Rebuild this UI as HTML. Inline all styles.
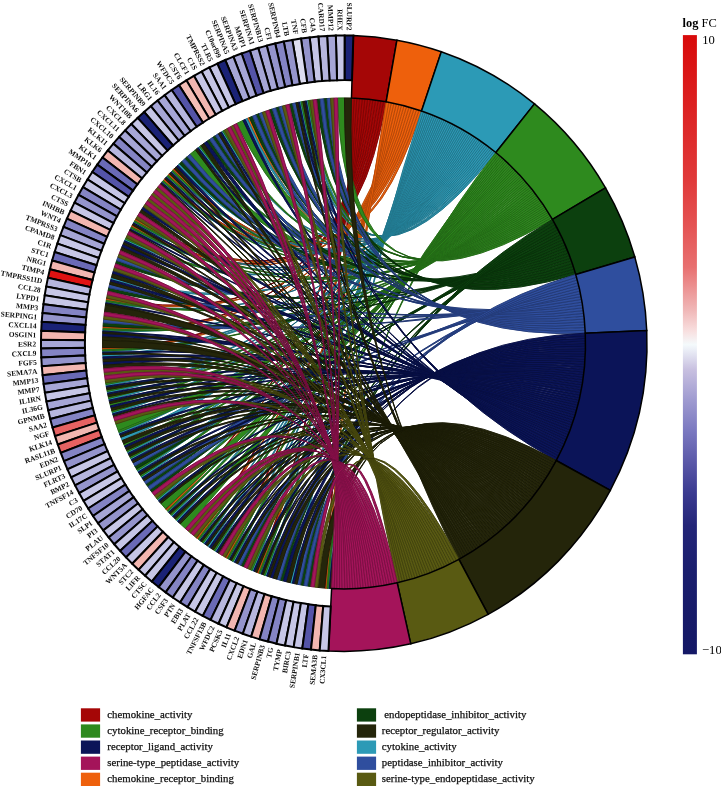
<!DOCTYPE html><html><head><meta charset="utf-8"><style>html,body{margin:0;padding:0;background:#fff;width:721px;height:786px;overflow:hidden}svg{display:block}text{font-family:"Liberation Serif","DejaVu Serif",serif}</style></head><body>
<svg width="721" height="786" viewBox="0 0 721 786">
<rect width="721" height="786" fill="#fff"/>
<style>.rb{stroke-width:0.95;stroke-linejoin:round}.rb .b{fill:none;stroke:#000;stroke-opacity:0.60;stroke-width:0.40}</style>
<g class="rb"><g fill="#A50606" stroke="#A50606"><path d="M174.46,168.59 Q344.00,343.40 386.18,101.70 L383.53,101.24 Q344.00,343.40 173.63,169.43 Z"/><path class="b" d="M174.46,168.59 Q344.00,343.40 386.18,101.70 L383.53,101.24 Q344.00,343.40 173.63,169.43 Z"/><path d="M169.56,173.65 Q344.00,343.40 383.53,101.24 L380.88,100.80 Q344.00,343.40 168.76,174.50 Z"/><path class="b" d="M169.56,173.65 Q344.00,343.40 383.53,101.24 L380.88,100.80 Q344.00,343.40 168.76,174.50 Z"/><path d="M164.81,178.84 Q344.00,343.40 380.88,100.80 L378.22,100.40 Q344.00,343.40 164.03,179.72 Z"/><path class="b" d="M164.81,178.84 Q344.00,343.40 380.88,100.80 L378.22,100.40 Q344.00,343.40 164.03,179.72 Z"/><path d="M135.93,218.80 Q344.00,343.40 378.22,100.40 L375.56,100.03 Q344.00,343.40 135.35,219.82 Z"/><path class="b" d="M135.93,218.80 Q344.00,343.40 378.22,100.40 L375.56,100.03 Q344.00,343.40 135.35,219.82 Z"/><path d="M132.48,224.96 Q344.00,343.40 375.56,100.03 L372.89,99.69 Q344.00,343.40 131.92,226.00 Z"/><path class="b" d="M132.48,224.96 Q344.00,343.40 375.56,100.03 L372.89,99.69 Q344.00,343.40 131.92,226.00 Z"/><path d="M106.66,298.10 Q344.00,343.40 372.89,99.69 L370.22,99.38 Q344.00,343.40 106.44,299.26 Z"/><path class="b" d="M106.66,298.10 Q344.00,343.40 372.89,99.69 L370.22,99.38 Q344.00,343.40 106.44,299.26 Z"/><path d="M103.10,326.23 Q344.00,343.40 370.22,99.38 L367.55,99.09 Q344.00,343.40 103.02,327.41 Z"/><path class="b" d="M103.10,326.23 Q344.00,343.40 370.22,99.38 L367.55,99.09 Q344.00,343.40 103.02,327.41 Z"/><path d="M102.54,347.50 Q344.00,343.40 367.55,99.09 L364.87,98.84 Q344.00,343.40 102.56,348.68 Z"/><path class="b" d="M102.54,347.50 Q344.00,343.40 367.55,99.09 L364.87,98.84 Q344.00,343.40 102.56,348.68 Z"/><path d="M165.53,508.77 Q344.00,343.40 364.87,98.84 L362.19,98.62 Q344.00,343.40 166.32,509.65 Z"/><path class="b" d="M165.53,508.77 Q344.00,343.40 364.87,98.84 L362.19,98.62 Q344.00,343.40 166.32,509.65 Z"/><path d="M196.28,537.59 Q344.00,343.40 362.19,98.62 L359.51,98.43 Q344.00,343.40 197.20,538.31 Z"/><path class="b" d="M196.28,537.59 Q344.00,343.40 362.19,98.62 L359.51,98.43 Q344.00,343.40 197.20,538.31 Z"/><path d="M225.33,557.19 Q344.00,343.40 359.51,98.43 L356.83,98.27 Q344.00,343.40 226.34,557.77 Z"/><path class="b" d="M225.33,557.19 Q344.00,343.40 359.51,98.43 L356.83,98.27 Q344.00,343.40 226.34,557.77 Z"/><path d="M256.85,572.33 Q344.00,343.40 356.83,98.27 L354.14,98.14 Q344.00,343.40 257.94,572.76 Z"/><path class="b" d="M256.85,572.33 Q344.00,343.40 356.83,98.27 L354.14,98.14 Q344.00,343.40 257.94,572.76 Z"/><path d="M324.65,588.09 Q344.00,343.40 354.14,98.14 L351.46,98.04 Q344.00,343.40 325.81,588.18 Z"/><path class="b" d="M324.65,588.09 Q344.00,343.40 354.14,98.14 L351.46,98.04 Q344.00,343.40 325.81,588.18 Z"/></g><g fill="#EE600C" stroke="#EE600C"><path d="M249.38,117.55 Q344.00,343.40 421.54,110.92 L419.07,110.09 Q344.00,343.40 247.24,118.49 Z"/><path class="b" d="M249.38,117.55 Q344.00,343.40 421.54,110.92 L419.07,110.09 Q344.00,343.40 247.24,118.49 Z"/><path d="M173.63,169.43 Q344.00,343.40 419.07,110.09 L416.58,109.27 Q344.00,343.40 172.81,170.26 Z"/><path class="b" d="M173.63,169.43 Q344.00,343.40 419.07,110.09 L416.58,109.27 Q344.00,343.40 172.81,170.26 Z"/><path d="M168.76,174.50 Q344.00,343.40 416.58,109.27 L414.09,108.49 Q344.00,343.40 167.96,175.36 Z"/><path class="b" d="M168.76,174.50 Q344.00,343.40 416.58,109.27 L414.09,108.49 Q344.00,343.40 167.96,175.36 Z"/><path d="M164.03,179.72 Q344.00,343.40 414.09,108.49 L411.59,107.73 Q344.00,343.40 163.25,180.60 Z"/><path class="b" d="M164.03,179.72 Q344.00,343.40 414.09,108.49 L411.59,107.73 Q344.00,343.40 163.25,180.60 Z"/><path d="M135.35,219.82 Q344.00,343.40 411.59,107.73 L409.08,107.01 Q344.00,343.40 134.76,220.84 Z"/><path class="b" d="M135.35,219.82 Q344.00,343.40 411.59,107.73 L409.08,107.01 Q344.00,343.40 134.76,220.84 Z"/><path d="M131.92,226.00 Q344.00,343.40 409.08,107.01 L406.56,106.30 Q344.00,343.40 131.37,227.04 Z"/><path class="b" d="M131.92,226.00 Q344.00,343.40 409.08,107.01 L406.56,106.30 Q344.00,343.40 131.37,227.04 Z"/><path d="M106.44,299.26 Q344.00,343.40 406.56,106.30 L404.04,105.63 Q344.00,343.40 106.24,300.43 Z"/><path class="b" d="M106.44,299.26 Q344.00,343.40 406.56,106.30 L404.04,105.63 Q344.00,343.40 106.24,300.43 Z"/><path d="M103.02,327.41 Q344.00,343.40 404.04,105.63 L401.50,104.99 Q344.00,343.40 102.95,328.59 Z"/><path class="b" d="M103.02,327.41 Q344.00,343.40 404.04,105.63 L401.50,104.99 Q344.00,343.40 102.95,328.59 Z"/><path d="M102.56,348.68 Q344.00,343.40 401.50,104.99 L398.97,104.37 Q344.00,343.40 102.59,349.86 Z"/><path class="b" d="M102.56,348.68 Q344.00,343.40 401.50,104.99 L398.97,104.37 Q344.00,343.40 102.59,349.86 Z"/><path d="M166.32,509.65 Q344.00,343.40 398.97,104.37 L396.42,103.78 Q344.00,343.40 167.11,510.51 Z"/><path class="b" d="M166.32,509.65 Q344.00,343.40 398.97,104.37 L396.42,103.78 Q344.00,343.40 167.11,510.51 Z"/><path d="M197.20,538.31 Q344.00,343.40 396.42,103.78 L393.87,103.22 Q344.00,343.40 198.13,539.03 Z"/><path class="b" d="M197.20,538.31 Q344.00,343.40 396.42,103.78 L393.87,103.22 Q344.00,343.40 198.13,539.03 Z"/><path d="M226.34,557.77 Q344.00,343.40 393.87,103.22 L391.31,102.68 Q344.00,343.40 227.36,558.34 Z"/><path class="b" d="M226.34,557.77 Q344.00,343.40 393.87,103.22 L391.31,102.68 Q344.00,343.40 227.36,558.34 Z"/><path d="M257.94,572.76 Q344.00,343.40 391.31,102.68 L388.75,102.18 Q344.00,343.40 259.02,573.18 Z"/><path class="b" d="M257.94,572.76 Q344.00,343.40 391.31,102.68 L388.75,102.18 Q344.00,343.40 259.02,573.18 Z"/><path d="M325.81,588.18 Q344.00,343.40 388.75,102.18 L386.18,101.70 Q344.00,343.40 326.97,588.26 Z"/><path class="b" d="M325.81,588.18 Q344.00,343.40 388.75,102.18 L386.18,101.70 Q344.00,343.40 326.97,588.26 Z"/></g><g fill="#2C9AB6" stroke="#2C9AB6"><path d="M307.98,100.67 Q344.00,343.40 495.84,152.52 L494.26,151.23 Q344.00,343.40 306.25,100.94 Z"/><path class="b" d="M307.98,100.67 Q344.00,343.40 495.84,152.52 L494.26,151.23 Q344.00,343.40 306.25,100.94 Z"/><path d="M301.09,101.83 Q344.00,343.40 494.26,151.23 L492.67,149.95 Q344.00,343.40 299.38,102.15 Z"/><path class="b" d="M301.09,101.83 Q344.00,343.40 494.26,151.23 L492.67,149.95 Q344.00,343.40 299.38,102.15 Z"/><path d="M247.24,118.49 Q344.00,343.40 492.67,149.95 L491.06,148.69 Q344.00,343.40 245.12,119.45 Z"/><path class="b" d="M247.24,118.49 Q344.00,343.40 492.67,149.95 L491.06,148.69 Q344.00,343.40 245.12,119.45 Z"/><path d="M222.87,131.04 Q344.00,343.40 491.06,148.69 L489.45,147.44 Q344.00,343.40 221.37,131.93 Z"/><path class="b" d="M222.87,131.04 Q344.00,343.40 491.06,148.69 L489.45,147.44 Q344.00,343.40 221.37,131.93 Z"/><path d="M199.58,146.66 Q344.00,343.40 489.45,147.44 L487.82,146.20 Q344.00,343.40 198.19,147.72 Z"/><path class="b" d="M199.58,146.66 Q344.00,343.40 489.45,147.44 L487.82,146.20 Q344.00,343.40 198.19,147.72 Z"/><path d="M179.50,163.69 Q344.00,343.40 487.82,146.20 L486.18,144.98 Q344.00,343.40 177.80,165.31 Z"/><path class="b" d="M179.50,163.69 Q344.00,343.40 487.82,146.20 L486.18,144.98 Q344.00,343.40 177.80,165.31 Z"/><path d="M171.99,171.10 Q344.00,343.40 486.18,144.98 L484.54,143.77 Q344.00,343.40 171.17,171.95 Z"/><path class="b" d="M171.99,171.10 Q344.00,343.40 486.18,144.98 L484.54,143.77 Q344.00,343.40 171.17,171.95 Z"/><path d="M167.16,176.23 Q344.00,343.40 484.54,143.77 L482.88,142.58 Q344.00,343.40 166.37,177.10 Z"/><path class="b" d="M167.16,176.23 Q344.00,343.40 484.54,143.77 L482.88,142.58 Q344.00,343.40 166.37,177.10 Z"/><path d="M162.48,181.49 Q344.00,343.40 482.88,142.58 L481.22,141.40 Q344.00,343.40 161.72,182.38 Z"/><path class="b" d="M162.48,181.49 Q344.00,343.40 482.88,142.58 L481.22,141.40 Q344.00,343.40 161.72,182.38 Z"/><path d="M134.18,221.87 Q344.00,343.40 481.22,141.40 L479.54,140.24 Q344.00,343.40 133.61,222.89 Z"/><path class="b" d="M134.18,221.87 Q344.00,343.40 481.22,141.40 L479.54,140.24 Q344.00,343.40 133.61,222.89 Z"/><path d="M130.82,228.08 Q344.00,343.40 479.54,140.24 L477.86,139.08 Q344.00,343.40 130.27,229.12 Z"/><path class="b" d="M130.82,228.08 Q344.00,343.40 479.54,140.24 L477.86,139.08 Q344.00,343.40 130.27,229.12 Z"/><path d="M125.35,239.18 Q344.00,343.40 477.86,139.08 L476.16,137.95 Q344.00,343.40 124.62,240.79 Z"/><path class="b" d="M125.35,239.18 Q344.00,343.40 477.86,139.08 L476.16,137.95 Q344.00,343.40 124.62,240.79 Z"/><path d="M111.41,277.38 Q344.00,343.40 476.16,137.95 L474.46,136.83 Q344.00,343.40 110.79,279.66 Z"/><path class="b" d="M111.41,277.38 Q344.00,343.40 476.16,137.95 L474.46,136.83 Q344.00,343.40 110.79,279.66 Z"/><path d="M106.04,301.59 Q344.00,343.40 474.46,136.83 L472.74,135.72 Q344.00,343.40 105.84,302.76 Z"/><path class="b" d="M106.04,301.59 Q344.00,343.40 474.46,136.83 L472.74,135.72 Q344.00,343.40 105.84,302.76 Z"/><path d="M102.88,329.77 Q344.00,343.40 472.74,135.72 L471.02,134.63 Q344.00,343.40 102.82,330.95 Z"/><path class="b" d="M102.88,329.77 Q344.00,343.40 472.74,135.72 L471.02,134.63 Q344.00,343.40 102.82,330.95 Z"/><path d="M102.63,351.04 Q344.00,343.40 471.02,134.63 L469.29,133.55 Q344.00,343.40 102.67,352.23 Z"/><path class="b" d="M102.63,351.04 Q344.00,343.40 471.02,134.63 L469.29,133.55 Q344.00,343.40 102.67,352.23 Z"/><path d="M102.76,354.59 Q344.00,343.40 469.29,133.55 L467.55,132.48 Q344.00,343.40 102.88,356.95 Z"/><path class="b" d="M102.76,354.59 Q344.00,343.40 469.29,133.55 L467.55,132.48 Q344.00,343.40 102.88,356.95 Z"/><path d="M105.93,384.55 Q344.00,343.40 467.55,132.48 L465.80,131.44 Q344.00,343.40 106.22,386.30 Z"/><path class="b" d="M105.93,384.55 Q344.00,343.40 467.55,132.48 L465.80,131.44 Q344.00,343.40 106.22,386.30 Z"/><path d="M107.20,391.52 Q344.00,343.40 465.80,131.44 L464.05,130.40 Q344.00,343.40 107.54,393.26 Z"/><path class="b" d="M107.20,391.52 Q344.00,343.40 465.80,131.44 L464.05,130.40 Q344.00,343.40 107.54,393.26 Z"/><path d="M108.66,398.46 Q344.00,343.40 464.05,130.40 L462.28,129.38 Q344.00,343.40 109.06,400.19 Z"/><path class="b" d="M108.66,398.46 Q344.00,343.40 464.05,130.40 L462.28,129.38 Q344.00,343.40 109.06,400.19 Z"/><path d="M112.18,412.19 Q344.00,343.40 462.28,129.38 L460.51,128.38 Q344.00,343.40 112.68,413.89 Z"/><path class="b" d="M112.18,412.19 Q344.00,343.40 462.28,129.38 L460.51,128.38 Q344.00,343.40 112.68,413.89 Z"/><path d="M118.91,432.33 Q344.00,343.40 460.51,128.38 L458.72,127.39 Q344.00,343.40 119.55,433.98 Z"/><path class="b" d="M118.91,432.33 Q344.00,343.40 460.51,128.38 L458.72,127.39 Q344.00,343.40 119.55,433.98 Z"/><path d="M120.86,437.27 Q344.00,343.40 458.72,127.39 L456.93,126.42 Q344.00,343.40 122.22,440.54 Z"/><path class="b" d="M120.86,437.27 Q344.00,343.40 458.72,127.39 L456.93,126.42 Q344.00,343.40 122.22,440.54 Z"/><path d="M127.34,451.81 Q344.00,343.40 456.93,126.42 L455.13,125.46 Q344.00,343.40 128.11,453.40 Z"/><path class="b" d="M127.34,451.81 Q344.00,343.40 456.93,126.42 L455.13,125.46 Q344.00,343.40 128.11,453.40 Z"/><path d="M130.51,458.13 Q344.00,343.40 455.13,125.46 L453.33,124.52 Q344.00,343.40 131.33,459.69 Z"/><path class="b" d="M130.51,458.13 Q344.00,343.40 455.13,125.46 L453.33,124.52 Q344.00,343.40 131.33,459.69 Z"/><path d="M137.38,470.47 Q344.00,343.40 453.33,124.52 L451.51,123.59 Q344.00,343.40 138.29,471.99 Z"/><path class="b" d="M137.38,470.47 Q344.00,343.40 453.33,124.52 L451.51,123.59 Q344.00,343.40 138.29,471.99 Z"/><path d="M141.08,476.49 Q344.00,343.40 451.51,123.59 L449.69,122.68 Q344.00,343.40 142.03,477.98 Z"/><path class="b" d="M141.08,476.49 Q344.00,343.40 451.51,123.59 L449.69,122.68 Q344.00,343.40 142.03,477.98 Z"/><path d="M157.54,499.39 Q344.00,343.40 449.69,122.68 L447.86,121.79 Q344.00,343.40 158.65,500.76 Z"/><path class="b" d="M157.54,499.39 Q344.00,343.40 449.69,122.68 L447.86,121.79 Q344.00,343.40 158.65,500.76 Z"/><path d="M167.90,511.38 Q344.00,343.40 447.86,121.79 L446.03,120.91 Q344.00,343.40 168.70,512.24 Z"/><path class="b" d="M167.90,511.38 Q344.00,343.40 447.86,121.79 L446.03,120.91 Q344.00,343.40 168.70,512.24 Z"/><path d="M171.53,515.22 Q344.00,343.40 446.03,120.91 L444.18,120.04 Q344.00,343.40 172.75,516.48 Z"/><path class="b" d="M171.53,515.22 Q344.00,343.40 446.03,120.91 L444.18,120.04 Q344.00,343.40 172.75,516.48 Z"/><path d="M176.48,520.21 Q344.00,343.40 444.18,120.04 L442.33,119.20 Q344.00,343.40 177.74,521.44 Z"/><path class="b" d="M176.48,520.21 Q344.00,343.40 444.18,120.04 L442.33,119.20 Q344.00,343.40 177.74,521.44 Z"/><path d="M199.06,539.74 Q344.00,343.40 442.33,119.20 L440.47,118.36 Q344.00,343.40 199.99,540.45 Z"/><path class="b" d="M199.06,539.74 Q344.00,343.40 442.33,119.20 L440.47,118.36 Q344.00,343.40 199.99,540.45 Z"/><path d="M203.28,542.89 Q344.00,343.40 440.47,118.36 L438.61,117.55 Q344.00,343.40 204.70,543.92 Z"/><path class="b" d="M203.28,542.89 Q344.00,343.40 440.47,118.36 L438.61,117.55 Q344.00,343.40 204.70,543.92 Z"/><path d="M207.56,545.94 Q344.00,343.40 438.61,117.55 L436.74,116.75 Q344.00,343.40 209.49,547.27 Z"/><path class="b" d="M207.56,545.94 Q344.00,343.40 438.61,117.55 L436.74,116.75 Q344.00,343.40 209.49,547.27 Z"/><path d="M214.85,550.82 Q344.00,343.40 436.74,116.75 L434.86,115.96 Q344.00,343.40 216.33,551.76 Z"/><path class="b" d="M214.85,550.82 Q344.00,343.40 436.74,116.75 L434.86,115.96 Q344.00,343.40 216.33,551.76 Z"/><path d="M228.38,558.91 Q344.00,343.40 434.86,115.96 L432.98,115.19 Q344.00,343.40 229.40,559.48 Z"/><path class="b" d="M228.38,558.91 Q344.00,343.40 434.86,115.96 L432.98,115.19 Q344.00,343.40 229.40,559.48 Z"/><path d="M233.00,561.41 Q344.00,343.40 432.98,115.19 L431.09,114.44 Q344.00,343.40 234.55,562.22 Z"/><path class="b" d="M233.00,561.41 Q344.00,343.40 432.98,115.19 L431.09,114.44 Q344.00,343.40 234.55,562.22 Z"/><path d="M251.99,570.36 Q344.00,343.40 431.09,114.44 L429.19,113.71 Q344.00,343.40 253.61,571.03 Z"/><path class="b" d="M251.99,570.36 Q344.00,343.40 431.09,114.44 L429.19,113.71 Q344.00,343.40 253.61,571.03 Z"/><path d="M260.11,573.59 Q344.00,343.40 429.19,113.71 L427.29,112.99 Q344.00,343.40 261.21,574.00 Z"/><path class="b" d="M260.11,573.59 Q344.00,343.40 429.19,113.71 L427.29,112.99 Q344.00,343.40 261.21,574.00 Z"/><path d="M265.04,575.38 Q344.00,343.40 427.29,112.99 L425.38,112.28 Q344.00,343.40 266.69,575.96 Z"/><path class="b" d="M265.04,575.38 Q344.00,343.40 427.29,112.99 L425.38,112.28 Q344.00,343.40 266.69,575.96 Z"/><path d="M290.19,582.70 Q344.00,343.40 425.38,112.28 L423.46,111.59 Q344.00,343.40 292.46,583.22 Z"/><path class="b" d="M290.19,582.70 Q344.00,343.40 425.38,112.28 L423.46,111.59 Q344.00,343.40 292.46,583.22 Z"/><path d="M328.13,588.35 Q344.00,343.40 423.46,111.59 L421.54,110.92 Q344.00,343.40 329.29,588.42 Z"/><path class="b" d="M328.13,588.35 Q344.00,343.40 423.46,111.59 L421.54,110.92 Q344.00,343.40 329.29,588.42 Z"/></g><g fill="#2E8A1E" stroke="#2E8A1E"><path d="M344.48,97.92 Q344.00,343.40 552.44,219.44 L551.41,217.66 Q344.00,343.40 337.50,98.01 Z"/><path class="b" d="M344.48,97.92 Q344.00,343.40 552.44,219.44 L551.41,217.66 Q344.00,343.40 337.50,98.01 Z"/><path d="M309.70,100.41 Q344.00,343.40 551.41,217.66 L550.36,215.90 Q344.00,343.40 307.98,100.67 Z"/><path class="b" d="M309.70,100.41 Q344.00,343.40 551.41,217.66 L550.36,215.90 Q344.00,343.40 307.98,100.67 Z"/><path d="M302.81,101.52 Q344.00,343.40 550.36,215.90 L549.30,214.14 Q344.00,343.40 301.09,101.83 Z"/><path class="b" d="M302.81,101.52 Q344.00,343.40 550.36,215.90 L549.30,214.14 Q344.00,343.40 301.09,101.83 Z"/><path d="M243.00,120.42 Q344.00,343.40 549.30,214.14 L548.22,212.39 Q344.00,343.40 236.70,123.48 Z"/><path class="b" d="M243.00,120.42 Q344.00,343.40 549.30,214.14 L548.22,212.39 Q344.00,343.40 236.70,123.48 Z"/><path d="M224.38,130.15 Q344.00,343.40 548.22,212.39 L547.13,210.65 Q344.00,343.40 222.87,131.04 Z"/><path class="b" d="M224.38,130.15 Q344.00,343.40 548.22,212.39 L547.13,210.65 Q344.00,343.40 222.87,131.04 Z"/><path d="M200.99,145.60 Q344.00,343.40 547.13,210.65 L546.03,208.92 Q344.00,343.40 199.58,146.66 Z"/><path class="b" d="M200.99,145.60 Q344.00,343.40 547.13,210.65 L546.03,208.92 Q344.00,343.40 199.58,146.66 Z"/><path d="M195.42,149.88 Q344.00,343.40 546.03,208.92 L544.91,207.19 Q344.00,343.40 189.98,154.33 Z"/><path class="b" d="M195.42,149.88 Q344.00,343.40 546.03,208.92 L544.91,207.19 Q344.00,343.40 189.98,154.33 Z"/><path d="M172.81,170.26 Q344.00,343.40 544.91,207.19 L543.77,205.48 Q344.00,343.40 171.99,171.10 Z"/><path class="b" d="M172.81,170.26 Q344.00,343.40 544.91,207.19 L543.77,205.48 Q344.00,343.40 171.99,171.10 Z"/><path d="M167.96,175.36 Q344.00,343.40 543.77,205.48 L542.63,203.78 Q344.00,343.40 167.16,176.23 Z"/><path class="b" d="M167.96,175.36 Q344.00,343.40 543.77,205.48 L542.63,203.78 Q344.00,343.40 167.16,176.23 Z"/><path d="M163.25,180.60 Q344.00,343.40 542.63,203.78 L541.46,202.09 Q344.00,343.40 162.48,181.49 Z"/><path class="b" d="M163.25,180.60 Q344.00,343.40 542.63,203.78 L541.46,202.09 Q344.00,343.40 162.48,181.49 Z"/><path d="M134.76,220.84 Q344.00,343.40 541.46,202.09 L540.29,200.41 Q344.00,343.40 134.18,221.87 Z"/><path class="b" d="M134.76,220.84 Q344.00,343.40 541.46,202.09 L540.29,200.41 Q344.00,343.40 134.18,221.87 Z"/><path d="M131.37,227.04 Q344.00,343.40 540.29,200.41 L539.10,198.73 Q344.00,343.40 130.82,228.08 Z"/><path class="b" d="M131.37,227.04 Q344.00,343.40 540.29,200.41 L539.10,198.73 Q344.00,343.40 130.82,228.08 Z"/><path d="M126.10,237.58 Q344.00,343.40 539.10,198.73 L537.90,197.07 Q344.00,343.40 125.35,239.18 Z"/><path class="b" d="M126.10,237.58 Q344.00,343.40 539.10,198.73 L537.90,197.07 Q344.00,343.40 125.35,239.18 Z"/><path d="M106.24,300.43 Q344.00,343.40 537.90,197.07 L536.68,195.42 Q344.00,343.40 106.04,301.59 Z"/><path class="b" d="M106.24,300.43 Q344.00,343.40 537.90,197.07 L536.68,195.42 Q344.00,343.40 106.04,301.59 Z"/><path d="M102.95,328.59 Q344.00,343.40 536.68,195.42 L535.45,193.78 Q344.00,343.40 102.88,329.77 Z"/><path class="b" d="M102.95,328.59 Q344.00,343.40 536.68,195.42 L535.45,193.78 Q344.00,343.40 102.88,329.77 Z"/><path d="M102.59,349.86 Q344.00,343.40 535.45,193.78 L534.20,192.15 Q344.00,343.40 102.63,351.04 Z"/><path class="b" d="M102.59,349.86 Q344.00,343.40 535.45,193.78 L534.20,192.15 Q344.00,343.40 102.63,351.04 Z"/><path d="M105.64,382.80 Q344.00,343.40 534.20,192.15 L532.95,190.53 Q344.00,343.40 105.93,384.55 Z"/><path class="b" d="M105.64,382.80 Q344.00,343.40 534.20,192.15 L532.95,190.53 Q344.00,343.40 105.93,384.55 Z"/><path d="M106.86,389.78 Q344.00,343.40 532.95,190.53 L531.68,188.92 Q344.00,343.40 107.20,391.52 Z"/><path class="b" d="M106.86,389.78 Q344.00,343.40 532.95,190.53 L531.68,188.92 Q344.00,343.40 107.20,391.52 Z"/><path d="M108.28,396.73 Q344.00,343.40 531.68,188.92 L530.39,187.32 Q344.00,343.40 108.66,398.46 Z"/><path class="b" d="M108.28,396.73 Q344.00,343.40 531.68,188.92 L530.39,187.32 Q344.00,343.40 108.66,398.46 Z"/><path d="M109.89,403.63 Q344.00,343.40 530.39,187.32 L529.09,185.73 Q344.00,343.40 110.47,405.92 Z"/><path class="b" d="M109.89,403.63 Q344.00,343.40 530.39,187.32 L529.09,185.73 Q344.00,343.40 110.47,405.92 Z"/><path d="M111.70,410.48 Q344.00,343.40 529.09,185.73 L527.78,184.16 Q344.00,343.40 112.18,412.19 Z"/><path class="b" d="M111.70,410.48 Q344.00,343.40 529.09,185.73 L527.78,184.16 Q344.00,343.40 112.18,412.19 Z"/><path d="M115.90,424.01 Q344.00,343.40 527.78,184.16 L526.46,182.59 Q344.00,343.40 118.29,430.68 Z"/><path class="b" d="M115.90,424.01 Q344.00,343.40 527.78,184.16 L526.46,182.59 Q344.00,343.40 118.29,430.68 Z"/><path d="M118.29,430.68 Q344.00,343.40 526.46,182.59 L525.12,181.04 Q344.00,343.40 118.91,432.33 Z"/><path class="b" d="M118.29,430.68 Q344.00,343.40 526.46,182.59 L525.12,181.04 Q344.00,343.40 118.91,432.33 Z"/><path d="M123.62,443.79 Q344.00,343.40 525.12,181.04 L523.78,179.50 Q344.00,343.40 124.59,445.94 Z"/><path class="b" d="M123.62,443.79 Q344.00,343.40 525.12,181.04 L523.78,179.50 Q344.00,343.40 124.59,445.94 Z"/><path d="M126.57,450.22 Q344.00,343.40 523.78,179.50 L522.41,177.97 Q344.00,343.40 127.34,451.81 Z"/><path class="b" d="M126.57,450.22 Q344.00,343.40 523.78,179.50 L522.41,177.97 Q344.00,343.40 127.34,451.81 Z"/><path d="M129.70,456.56 Q344.00,343.40 522.41,177.97 L521.04,176.45 Q344.00,343.40 130.51,458.13 Z"/><path class="b" d="M129.70,456.56 Q344.00,343.40 522.41,177.97 L521.04,176.45 Q344.00,343.40 130.51,458.13 Z"/><path d="M136.49,468.95 Q344.00,343.40 521.04,176.45 L519.65,174.94 Q344.00,343.40 137.38,470.47 Z"/><path class="b" d="M136.49,468.95 Q344.00,343.40 521.04,176.45 L519.65,174.94 Q344.00,343.40 137.38,470.47 Z"/><path d="M140.14,475.00 Q344.00,343.40 519.65,174.94 L518.25,173.45 Q344.00,343.40 141.08,476.49 Z"/><path class="b" d="M140.14,475.00 Q344.00,343.40 519.65,174.94 L518.25,173.45 Q344.00,343.40 141.08,476.49 Z"/><path d="M156.43,498.02 Q344.00,343.40 518.25,173.45 L516.84,171.96 Q344.00,343.40 157.54,499.39 Z"/><path class="b" d="M156.43,498.02 Q344.00,343.40 518.25,173.45 L516.84,171.96 Q344.00,343.40 157.54,499.39 Z"/><path d="M160.91,503.46 Q344.00,343.40 516.84,171.96 L515.42,170.49 Q344.00,343.40 165.53,508.77 Z"/><path class="b" d="M160.91,503.46 Q344.00,343.40 516.84,171.96 L515.42,170.49 Q344.00,343.40 165.53,508.77 Z"/><path d="M167.11,510.51 Q344.00,343.40 515.42,170.49 L513.98,169.03 Q344.00,343.40 167.90,511.38 Z"/><path class="b" d="M167.11,510.51 Q344.00,343.40 515.42,170.49 L513.98,169.03 Q344.00,343.40 167.90,511.38 Z"/><path d="M170.31,513.95 Q344.00,343.40 513.98,169.03 L512.53,167.59 Q344.00,343.40 171.53,515.22 Z"/><path class="b" d="M170.31,513.95 Q344.00,343.40 513.98,169.03 L512.53,167.59 Q344.00,343.40 171.53,515.22 Z"/><path d="M175.23,518.98 Q344.00,343.40 512.53,167.59 L511.07,166.15 Q344.00,343.40 176.48,520.21 Z"/><path class="b" d="M175.23,518.98 Q344.00,343.40 512.53,167.59 L511.07,166.15 Q344.00,343.40 176.48,520.21 Z"/><path d="M180.29,523.86 Q344.00,343.40 511.07,166.15 L509.60,164.73 Q344.00,343.40 185.49,528.60 Z"/><path class="b" d="M180.29,523.86 Q344.00,343.40 511.07,166.15 L509.60,164.73 Q344.00,343.40 185.49,528.60 Z"/><path d="M198.13,539.03 Q344.00,343.40 509.60,164.73 L508.12,163.32 Q344.00,343.40 199.06,539.74 Z"/><path class="b" d="M198.13,539.03 Q344.00,343.40 509.60,164.73 L508.12,163.32 Q344.00,343.40 199.06,539.74 Z"/><path d="M201.86,541.85 Q344.00,343.40 508.12,163.32 L506.62,161.93 Q344.00,343.40 203.28,542.89 Z"/><path class="b" d="M201.86,541.85 Q344.00,343.40 508.12,163.32 L506.62,161.93 Q344.00,343.40 203.28,542.89 Z"/><path d="M213.38,549.87 Q344.00,343.40 506.62,161.93 L505.12,160.55 Q344.00,343.40 214.85,550.82 Z"/><path class="b" d="M213.38,549.87 Q344.00,343.40 506.62,161.93 L505.12,160.55 Q344.00,343.40 214.85,550.82 Z"/><path d="M227.36,558.34 Q344.00,343.40 505.12,160.55 L503.60,159.18 Q344.00,343.40 228.38,558.91 Z"/><path class="b" d="M227.36,558.34 Q344.00,343.40 505.12,160.55 L503.60,159.18 Q344.00,343.40 228.38,558.91 Z"/><path d="M231.46,560.59 Q344.00,343.40 503.60,159.18 L502.07,157.82 Q344.00,343.40 233.00,561.41 Z"/><path class="b" d="M231.46,560.59 Q344.00,343.40 503.60,159.18 L502.07,157.82 Q344.00,343.40 233.00,561.41 Z"/><path d="M250.38,569.68 Q344.00,343.40 502.07,157.82 L500.53,156.47 Q344.00,343.40 251.99,570.36 Z"/><path class="b" d="M250.38,569.68 Q344.00,343.40 502.07,157.82 L500.53,156.47 Q344.00,343.40 251.99,570.36 Z"/><path d="M259.02,573.18 Q344.00,343.40 500.53,156.47 L498.98,155.14 Q344.00,343.40 260.11,573.59 Z"/><path class="b" d="M259.02,573.18 Q344.00,343.40 500.53,156.47 L498.98,155.14 Q344.00,343.40 260.11,573.59 Z"/><path d="M263.40,574.80 Q344.00,343.40 498.98,155.14 L497.42,153.83 Q344.00,343.40 265.04,575.38 Z"/><path class="b" d="M263.40,574.80 Q344.00,343.40 498.98,155.14 L497.42,153.83 Q344.00,343.40 265.04,575.38 Z"/><path d="M326.97,588.26 Q344.00,343.40 497.42,153.83 L495.84,152.52 Q344.00,343.40 328.13,588.35 Z"/><path class="b" d="M326.97,588.26 Q344.00,343.40 497.42,153.83 L495.84,152.52 Q344.00,343.40 328.13,588.35 Z"/></g><g fill="#0C400E" stroke="#0C400E"><path d="M327.05,98.53 Q344.00,343.40 575.78,274.50 L574.98,271.76 Q344.00,343.40 323.57,98.80 Z"/><path class="b" d="M327.05,98.53 Q344.00,343.40 575.78,274.50 L574.98,271.76 Q344.00,343.40 323.57,98.80 Z"/><path d="M320.09,99.13 Q344.00,343.40 574.98,271.76 L574.14,269.03 Q344.00,343.40 316.62,99.51 Z"/><path class="b" d="M320.09,99.13 Q344.00,343.40 574.98,271.76 L574.14,269.03 Q344.00,343.40 316.62,99.51 Z"/><path d="M292.54,103.56 Q344.00,343.40 574.14,269.03 L573.27,266.30 Q344.00,343.40 289.13,104.34 Z"/><path class="b" d="M292.54,103.56 Q344.00,343.40 574.14,269.03 L573.27,266.30 Q344.00,343.40 289.13,104.34 Z"/><path d="M278.99,106.99 Q344.00,343.40 573.27,266.30 L572.37,263.59 Q344.00,343.40 275.64,107.96 Z"/><path class="b" d="M278.99,106.99 Q344.00,343.40 573.27,266.30 L572.37,263.59 Q344.00,343.40 275.64,107.96 Z"/><path d="M272.30,108.99 Q344.00,343.40 572.37,263.59 L571.44,260.89 Q344.00,343.40 268.97,110.07 Z"/><path class="b" d="M272.30,108.99 Q344.00,343.40 572.37,263.59 L571.44,260.89 Q344.00,343.40 268.97,110.07 Z"/><path d="M259.10,113.60 Q344.00,343.40 571.44,260.89 L570.48,258.20 Q344.00,343.40 255.84,114.87 Z"/><path class="b" d="M259.10,113.60 Q344.00,343.40 571.44,260.89 L570.48,258.20 Q344.00,343.40 255.84,114.87 Z"/><path d="M252.60,116.19 Q344.00,343.40 570.48,258.20 L569.49,255.52 Q344.00,343.40 249.38,117.55 Z"/><path class="b" d="M252.60,116.19 Q344.00,343.40 570.48,258.20 L569.49,255.52 Q344.00,343.40 249.38,117.55 Z"/><path d="M215.41,135.62 Q344.00,343.40 569.49,255.52 L568.46,252.86 Q344.00,343.40 212.47,137.53 Z"/><path class="b" d="M215.41,135.62 Q344.00,343.40 569.49,255.52 L568.46,252.86 Q344.00,343.40 212.47,137.53 Z"/><path d="M209.55,139.49 Q344.00,343.40 568.46,252.86 L567.41,250.20 Q344.00,343.40 206.67,141.48 Z"/><path class="b" d="M209.55,139.49 Q344.00,343.40 568.46,252.86 L567.41,250.20 Q344.00,343.40 206.67,141.48 Z"/><path d="M187.31,156.61 Q344.00,343.40 567.41,250.20 L566.32,247.56 Q344.00,343.40 184.67,158.93 Z"/><path class="b" d="M187.31,156.61 Q344.00,343.40 567.41,250.20 L566.32,247.56 Q344.00,343.40 184.67,158.93 Z"/><path d="M182.07,161.29 Q344.00,343.40 566.32,247.56 L565.21,244.93 Q344.00,343.40 179.50,163.69 Z"/><path class="b" d="M182.07,161.29 Q344.00,343.40 566.32,247.56 L565.21,244.93 Q344.00,343.40 179.50,163.69 Z"/><path d="M116.70,260.48 Q344.00,343.40 565.21,244.93 L564.07,242.32 Q344.00,343.40 115.55,263.83 Z"/><path class="b" d="M116.70,260.48 Q344.00,343.40 565.21,244.93 L564.07,242.32 Q344.00,343.40 115.55,263.83 Z"/><path d="M108.81,287.69 Q344.00,343.40 564.07,242.32 L562.89,239.71 Q344.00,343.40 108.04,291.15 Z"/><path class="b" d="M108.81,287.69 Q344.00,343.40 564.07,242.32 L562.89,239.71 Q344.00,343.40 108.04,291.15 Z"/><path d="M103.37,322.69 Q344.00,343.40 562.89,239.71 L561.69,237.13 Q344.00,343.40 103.10,326.23 Z"/><path class="b" d="M103.37,322.69 Q344.00,343.40 562.89,239.71 L561.69,237.13 Q344.00,343.40 103.10,326.23 Z"/><path d="M134.72,465.89 Q344.00,343.40 561.69,237.13 L560.45,234.55 Q344.00,343.40 136.49,468.95 Z"/><path class="b" d="M134.72,465.89 Q344.00,343.40 561.69,237.13 L560.45,234.55 Q344.00,343.40 136.49,468.95 Z"/><path d="M145.94,483.85 Q344.00,343.40 560.45,234.55 L559.19,232.00 Q344.00,343.40 147.96,486.75 Z"/><path class="b" d="M145.94,483.85 Q344.00,343.40 560.45,234.55 L559.19,232.00 Q344.00,343.40 147.96,486.75 Z"/><path d="M150.02,489.61 Q344.00,343.40 559.19,232.00 L557.90,229.45 Q344.00,343.40 152.12,492.45 Z"/><path class="b" d="M150.02,489.61 Q344.00,343.40 559.19,232.00 L557.90,229.45 Q344.00,343.40 152.12,492.45 Z"/><path d="M240.82,565.34 Q344.00,343.40 557.90,229.45 L556.58,226.93 Q344.00,343.40 243.99,566.83 Z"/><path class="b" d="M240.82,565.34 Q344.00,343.40 557.90,229.45 L556.58,226.93 Q344.00,343.40 243.99,566.83 Z"/><path d="M280.04,580.11 Q344.00,343.40 556.58,226.93 L555.23,224.41 Q344.00,343.40 283.41,581.02 Z"/><path class="b" d="M280.04,580.11 Q344.00,343.40 556.58,226.93 L555.23,224.41 Q344.00,343.40 283.41,581.02 Z"/><path d="M300.44,584.85 Q344.00,343.40 555.23,224.41 L553.85,221.92 Q344.00,343.40 303.88,585.46 Z"/><path class="b" d="M300.44,584.85 Q344.00,343.40 555.23,224.41 L553.85,221.92 Q344.00,343.40 303.88,585.46 Z"/><path d="M307.32,586.03 Q344.00,343.40 553.85,221.92 L552.44,219.44 Q344.00,343.40 310.78,586.54 Z"/><path class="b" d="M307.32,586.03 Q344.00,343.40 553.85,221.92 L552.44,219.44 Q344.00,343.40 310.78,586.54 Z"/></g><g fill="#2F4E9E" stroke="#2F4E9E"><path d="M330.53,98.31 Q344.00,343.40 585.28,333.16 L585.15,330.33 Q344.00,343.40 327.05,98.53 Z"/><path class="b" d="M330.53,98.31 Q344.00,343.40 585.28,333.16 L585.15,330.33 Q344.00,343.40 327.05,98.53 Z"/><path d="M323.57,98.80 Q344.00,343.40 585.15,330.33 L584.98,327.50 Q344.00,343.40 320.09,99.13 Z"/><path class="b" d="M323.57,98.80 Q344.00,343.40 585.15,330.33 L584.98,327.50 Q344.00,343.40 320.09,99.13 Z"/><path d="M295.95,102.83 Q344.00,343.40 584.98,327.50 L584.79,324.66 Q344.00,343.40 292.54,103.56 Z"/><path class="b" d="M295.95,102.83 Q344.00,343.40 584.98,327.50 L584.79,324.66 Q344.00,343.40 292.54,103.56 Z"/><path d="M282.36,106.06 Q344.00,343.40 584.79,324.66 L584.56,321.84 Q344.00,343.40 278.99,106.99 Z"/><path class="b" d="M282.36,106.06 Q344.00,343.40 584.79,324.66 L584.56,321.84 Q344.00,343.40 278.99,106.99 Z"/><path d="M275.64,107.96 Q344.00,343.40 584.56,321.84 L584.30,319.01 Q344.00,343.40 272.30,108.99 Z"/><path class="b" d="M275.64,107.96 Q344.00,343.40 584.56,321.84 L584.30,319.01 Q344.00,343.40 272.30,108.99 Z"/><path d="M262.37,112.37 Q344.00,343.40 584.30,319.01 L584.00,316.19 Q344.00,343.40 259.10,113.60 Z"/><path class="b" d="M262.37,112.37 Q344.00,343.40 584.30,319.01 L584.00,316.19 Q344.00,343.40 259.10,113.60 Z"/><path d="M255.84,114.87 Q344.00,343.40 584.00,316.19 L583.68,313.37 Q344.00,343.40 252.60,116.19 Z"/><path class="b" d="M255.84,114.87 Q344.00,343.40 584.00,316.19 L583.68,313.37 Q344.00,343.40 252.60,116.19 Z"/><path d="M218.37,133.75 Q344.00,343.40 583.68,313.37 L583.32,310.56 Q344.00,343.40 215.41,135.62 Z"/><path class="b" d="M218.37,133.75 Q344.00,343.40 583.68,313.37 L583.32,310.56 Q344.00,343.40 215.41,135.62 Z"/><path d="M212.47,137.53 Q344.00,343.40 583.32,310.56 L582.93,307.75 Q344.00,343.40 209.55,139.49 Z"/><path class="b" d="M212.47,137.53 Q344.00,343.40 583.32,310.56 L582.93,307.75 Q344.00,343.40 209.55,139.49 Z"/><path d="M189.98,154.33 Q344.00,343.40 582.93,307.75 L582.51,304.94 Q344.00,343.40 187.31,156.61 Z"/><path class="b" d="M189.98,154.33 Q344.00,343.40 582.93,307.75 L582.51,304.94 Q344.00,343.40 187.31,156.61 Z"/><path d="M184.67,158.93 Q344.00,343.40 582.51,304.94 L582.06,302.14 Q344.00,343.40 182.07,161.29 Z"/><path class="b" d="M184.67,158.93 Q344.00,343.40 582.51,304.94 L582.06,302.14 Q344.00,343.40 182.07,161.29 Z"/><path d="M117.90,257.15 Q344.00,343.40 582.06,302.14 L581.57,299.35 Q344.00,343.40 116.70,260.48 Z"/><path class="b" d="M117.90,257.15 Q344.00,343.40 582.06,302.14 L581.57,299.35 Q344.00,343.40 116.70,260.48 Z"/><path d="M109.63,284.24 Q344.00,343.40 581.57,299.35 L581.05,296.56 Q344.00,343.40 108.81,287.69 Z"/><path class="b" d="M109.63,284.24 Q344.00,343.40 581.57,299.35 L581.05,296.56 Q344.00,343.40 108.81,287.69 Z"/><path d="M103.69,319.16 Q344.00,343.40 581.05,296.56 L580.50,293.77 Q344.00,343.40 103.37,322.69 Z"/><path class="b" d="M103.69,319.16 Q344.00,343.40 581.05,296.56 L580.50,293.77 Q344.00,343.40 103.37,322.69 Z"/><path d="M133.00,462.81 Q344.00,343.40 580.50,293.77 L579.92,291.00 Q344.00,343.40 134.72,465.89 Z"/><path class="b" d="M133.00,462.81 Q344.00,343.40 580.50,293.77 L579.92,291.00 Q344.00,343.40 134.72,465.89 Z"/><path d="M143.97,480.93 Q344.00,343.40 579.92,291.00 L579.31,288.23 Q344.00,343.40 145.94,483.85 Z"/><path class="b" d="M143.97,480.93 Q344.00,343.40 579.92,291.00 L579.31,288.23 Q344.00,343.40 145.94,483.85 Z"/><path d="M147.96,486.75 Q344.00,343.40 579.31,288.23 L578.67,285.47 Q344.00,343.40 150.02,489.61 Z"/><path class="b" d="M147.96,486.75 Q344.00,343.40 579.31,288.23 L578.67,285.47 Q344.00,343.40 150.02,489.61 Z"/><path d="M237.68,563.80 Q344.00,343.40 578.67,285.47 L578.00,282.71 Q344.00,343.40 240.82,565.34 Z"/><path class="b" d="M237.68,563.80 Q344.00,343.40 578.67,285.47 L578.00,282.71 Q344.00,343.40 240.82,565.34 Z"/><path d="M276.68,579.14 Q344.00,343.40 578.00,282.71 L577.29,279.97 Q344.00,343.40 280.04,580.11 Z"/><path class="b" d="M276.68,579.14 Q344.00,343.40 578.00,282.71 L577.29,279.97 Q344.00,343.40 280.04,580.11 Z"/><path d="M297.01,584.18 Q344.00,343.40 577.29,279.97 L576.55,277.23 Q344.00,343.40 300.44,584.85 Z"/><path class="b" d="M297.01,584.18 Q344.00,343.40 577.29,279.97 L576.55,277.23 Q344.00,343.40 300.44,584.85 Z"/><path d="M303.88,585.46 Q344.00,343.40 576.55,277.23 L575.78,274.50 Q344.00,343.40 307.32,586.03 Z"/><path class="b" d="M303.88,585.46 Q344.00,343.40 576.55,277.23 L575.78,274.50 Q344.00,343.40 307.32,586.03 Z"/></g><g fill="#0B1458" stroke="#0B1458"><path d="M306.25,100.94 Q344.00,343.40 556.23,460.53 L557.43,458.24 Q344.00,343.40 304.53,101.23 Z"/><path class="b" d="M306.25,100.94 Q344.00,343.40 556.23,460.53 L557.43,458.24 Q344.00,343.40 304.53,101.23 Z"/><path d="M299.38,102.15 Q344.00,343.40 557.43,458.24 L558.62,455.94 Q344.00,343.40 297.66,102.49 Z"/><path class="b" d="M299.38,102.15 Q344.00,343.40 557.43,458.24 L558.62,455.94 Q344.00,343.40 297.66,102.49 Z"/><path d="M245.12,119.45 Q344.00,343.40 558.62,455.94 L559.77,453.63 Q344.00,343.40 243.00,120.42 Z"/><path class="b" d="M245.12,119.45 Q344.00,343.40 558.62,455.94 L559.77,453.63 Q344.00,343.40 243.00,120.42 Z"/><path d="M221.37,131.93 Q344.00,343.40 559.77,453.63 L560.91,451.31 Q344.00,343.40 219.87,132.84 Z"/><path class="b" d="M221.37,131.93 Q344.00,343.40 559.77,453.63 L560.91,451.31 Q344.00,343.40 219.87,132.84 Z"/><path d="M206.67,141.48 Q344.00,343.40 560.91,451.31 L562.02,448.97 Q344.00,343.40 203.81,143.52 Z"/><path class="b" d="M206.67,141.48 Q344.00,343.40 560.91,451.31 L562.02,448.97 Q344.00,343.40 203.81,143.52 Z"/><path d="M198.19,147.72 Q344.00,343.40 562.02,448.97 L563.10,446.62 Q344.00,343.40 196.80,148.80 Z"/><path class="b" d="M198.19,147.72 Q344.00,343.40 562.02,448.97 L563.10,446.62 Q344.00,343.40 196.80,148.80 Z"/><path d="M177.80,165.31 Q344.00,343.40 563.10,446.62 L564.16,444.26 Q344.00,343.40 176.12,166.94 Z"/><path class="b" d="M177.80,165.31 Q344.00,343.40 563.10,446.62 L564.16,444.26 Q344.00,343.40 176.12,166.94 Z"/><path d="M171.17,171.95 Q344.00,343.40 564.16,444.26 L565.20,441.89 Q344.00,343.40 170.36,172.80 Z"/><path class="b" d="M171.17,171.95 Q344.00,343.40 564.16,444.26 L565.20,441.89 Q344.00,343.40 170.36,172.80 Z"/><path d="M166.37,177.10 Q344.00,343.40 565.20,441.89 L566.21,439.51 Q344.00,343.40 165.59,177.97 Z"/><path class="b" d="M166.37,177.10 Q344.00,343.40 565.20,441.89 L566.21,439.51 Q344.00,343.40 165.59,177.97 Z"/><path d="M161.72,182.38 Q344.00,343.40 566.21,439.51 L567.20,437.11 Q344.00,343.40 160.96,183.28 Z"/><path class="b" d="M161.72,182.38 Q344.00,343.40 566.21,439.51 L567.20,437.11 Q344.00,343.40 160.96,183.28 Z"/><path d="M143.36,206.79 Q344.00,343.40 567.20,437.11 L568.16,434.71 Q344.00,343.40 141.44,209.75 Z"/><path class="b" d="M143.36,206.79 Q344.00,343.40 567.20,437.11 L568.16,434.71 Q344.00,343.40 141.44,209.75 Z"/><path d="M133.61,222.89 Q344.00,343.40 568.16,434.71 L569.10,432.30 Q344.00,343.40 133.04,223.93 Z"/><path class="b" d="M133.61,222.89 Q344.00,343.40 568.16,434.71 L569.10,432.30 Q344.00,343.40 133.04,223.93 Z"/><path d="M130.27,229.12 Q344.00,343.40 569.10,432.30 L570.01,429.87 Q344.00,343.40 129.73,230.17 Z"/><path class="b" d="M130.27,229.12 Q344.00,343.40 569.10,432.30 L570.01,429.87 Q344.00,343.40 129.73,230.17 Z"/><path d="M124.62,240.79 Q344.00,343.40 570.01,429.87 L570.90,427.44 Q344.00,343.40 123.90,242.40 Z"/><path class="b" d="M124.62,240.79 Q344.00,343.40 570.01,429.87 L570.90,427.44 Q344.00,343.40 123.90,242.40 Z"/><path d="M123.18,244.02 Q344.00,343.40 570.90,427.44 L571.76,425.00 Q344.00,343.40 121.79,247.28 Z"/><path class="b" d="M123.18,244.02 Q344.00,343.40 570.90,427.44 L571.76,425.00 Q344.00,343.40 121.79,247.28 Z"/><path d="M113.38,270.58 Q344.00,343.40 571.76,425.00 L572.60,422.55 Q344.00,343.40 112.37,273.97 Z"/><path class="b" d="M113.38,270.58 Q344.00,343.40 571.76,425.00 L572.60,422.55 Q344.00,343.40 112.37,273.97 Z"/><path d="M110.79,279.66 Q344.00,343.40 572.60,422.55 L573.41,420.08 Q344.00,343.40 110.20,281.95 Z"/><path class="b" d="M110.79,279.66 Q344.00,343.40 572.60,422.55 L573.41,420.08 Q344.00,343.40 110.20,281.95 Z"/><path d="M105.84,302.76 Q344.00,343.40 573.41,420.08 L574.19,417.61 Q344.00,343.40 105.65,303.92 Z"/><path class="b" d="M105.84,302.76 Q344.00,343.40 573.41,420.08 L574.19,417.61 Q344.00,343.40 105.65,303.92 Z"/><path d="M102.82,330.95 Q344.00,343.40 574.19,417.61 L574.95,415.14 Q344.00,343.40 102.76,332.13 Z"/><path class="b" d="M102.82,330.95 Q344.00,343.40 574.19,417.61 L574.95,415.14 Q344.00,343.40 102.76,332.13 Z"/><path d="M102.71,333.31 Q344.00,343.40 574.95,415.14 L575.68,412.65 Q344.00,343.40 102.59,336.86 Z"/><path class="b" d="M102.71,333.31 Q344.00,343.40 574.95,415.14 L575.68,412.65 Q344.00,343.40 102.59,336.86 Z"/><path d="M102.67,352.23 Q344.00,343.40 575.68,412.65 L576.39,410.16 Q344.00,343.40 102.71,353.41 Z"/><path class="b" d="M102.67,352.23 Q344.00,343.40 575.68,412.65 L576.39,410.16 Q344.00,343.40 102.71,353.41 Z"/><path d="M102.88,356.95 Q344.00,343.40 576.39,410.16 L577.07,407.66 Q344.00,343.40 103.02,359.31 Z"/><path class="b" d="M102.88,356.95 Q344.00,343.40 576.39,410.16 L577.07,407.66 Q344.00,343.40 103.02,359.31 Z"/><path d="M103.18,361.67 Q344.00,343.40 577.07,407.66 L577.73,405.15 Q344.00,343.40 103.46,365.21 Z"/><path class="b" d="M103.18,361.67 Q344.00,343.40 577.07,407.66 L577.73,405.15 Q344.00,343.40 103.46,365.21 Z"/><path d="M106.22,386.30 Q344.00,343.40 577.73,405.15 L578.35,402.63 Q344.00,343.40 106.54,388.04 Z"/><path class="b" d="M106.22,386.30 Q344.00,343.40 577.73,405.15 L578.35,402.63 Q344.00,343.40 106.54,388.04 Z"/><path d="M107.54,393.26 Q344.00,343.40 578.35,402.63 L578.96,400.11 Q344.00,343.40 107.90,395.00 Z"/><path class="b" d="M107.54,393.26 Q344.00,343.40 578.35,402.63 L578.96,400.11 Q344.00,343.40 107.90,395.00 Z"/><path d="M109.06,400.19 Q344.00,343.40 578.96,400.11 L579.53,397.58 Q344.00,343.40 109.47,401.91 Z"/><path class="b" d="M109.06,400.19 Q344.00,343.40 578.96,400.11 L579.53,397.58 Q344.00,343.40 109.47,401.91 Z"/><path d="M110.47,405.92 Q344.00,343.40 579.53,397.58 L580.08,395.05 Q344.00,343.40 111.08,408.20 Z"/><path class="b" d="M110.47,405.92 Q344.00,343.40 579.53,397.58 L580.08,395.05 Q344.00,343.40 111.08,408.20 Z"/><path d="M112.68,413.89 Q344.00,343.40 580.08,395.05 L580.61,392.51 Q344.00,343.40 113.19,415.58 Z"/><path class="b" d="M112.68,413.89 Q344.00,343.40 580.08,395.05 L580.61,392.51 Q344.00,343.40 113.19,415.58 Z"/><path d="M119.55,433.98 Q344.00,343.40 580.61,392.51 L581.11,389.97 Q344.00,343.40 120.20,435.63 Z"/><path class="b" d="M119.55,433.98 Q344.00,343.40 580.61,392.51 L581.11,389.97 Q344.00,343.40 120.20,435.63 Z"/><path d="M124.59,445.94 Q344.00,343.40 581.11,389.97 L581.58,387.42 Q344.00,343.40 125.57,448.08 Z"/><path class="b" d="M124.59,445.94 Q344.00,343.40 581.11,389.97 L581.58,387.42 Q344.00,343.40 125.57,448.08 Z"/><path d="M128.11,453.40 Q344.00,343.40 581.58,387.42 L582.02,384.86 Q344.00,343.40 128.90,454.98 Z"/><path class="b" d="M128.11,453.40 Q344.00,343.40 581.58,387.42 L582.02,384.86 Q344.00,343.40 128.90,454.98 Z"/><path d="M131.33,459.69 Q344.00,343.40 582.02,384.86 L582.44,382.30 Q344.00,343.40 132.16,461.25 Z"/><path class="b" d="M131.33,459.69 Q344.00,343.40 582.02,384.86 L582.44,382.30 Q344.00,343.40 132.16,461.25 Z"/><path d="M138.29,471.99 Q344.00,343.40 582.44,382.30 L582.83,379.74 Q344.00,343.40 139.21,473.50 Z"/><path class="b" d="M138.29,471.99 Q344.00,343.40 582.44,382.30 L582.83,379.74 Q344.00,343.40 139.21,473.50 Z"/><path d="M142.03,477.98 Q344.00,343.40 582.83,379.74 L583.20,377.17 Q344.00,343.40 143.00,479.46 Z"/><path class="b" d="M142.03,477.98 Q344.00,343.40 582.83,379.74 L583.20,377.17 Q344.00,343.40 143.00,479.46 Z"/><path d="M158.65,500.76 Q344.00,343.40 583.20,377.17 L583.53,374.60 Q344.00,343.40 159.78,502.11 Z"/><path class="b" d="M158.65,500.76 Q344.00,343.40 583.20,377.17 L583.53,374.60 Q344.00,343.40 159.78,502.11 Z"/><path d="M168.70,512.24 Q344.00,343.40 583.53,374.60 L583.84,372.02 Q344.00,343.40 169.50,513.10 Z"/><path class="b" d="M168.70,512.24 Q344.00,343.40 583.53,374.60 L583.84,372.02 Q344.00,343.40 169.50,513.10 Z"/><path d="M172.75,516.48 Q344.00,343.40 583.84,372.02 L584.13,369.44 Q344.00,343.40 173.99,517.73 Z"/><path class="b" d="M172.75,516.48 Q344.00,343.40 583.84,372.02 L584.13,369.44 Q344.00,343.40 173.99,517.73 Z"/><path d="M177.74,521.44 Q344.00,343.40 584.13,369.44 L584.39,366.86 Q344.00,343.40 179.01,522.66 Z"/><path class="b" d="M177.74,521.44 Q344.00,343.40 584.13,369.44 L584.39,366.86 Q344.00,343.40 179.01,522.66 Z"/><path d="M199.99,540.45 Q344.00,343.40 584.39,366.86 L584.62,364.27 Q344.00,343.40 200.92,541.15 Z"/><path class="b" d="M199.99,540.45 Q344.00,343.40 584.39,366.86 L584.62,364.27 Q344.00,343.40 200.92,541.15 Z"/><path d="M204.70,543.92 Q344.00,343.40 584.62,364.27 L584.82,361.69 Q344.00,343.40 206.13,544.94 Z"/><path class="b" d="M204.70,543.92 Q344.00,343.40 584.62,364.27 L584.82,361.69 Q344.00,343.40 206.13,544.94 Z"/><path d="M209.49,547.27 Q344.00,343.40 584.82,361.69 L585.00,359.10 Q344.00,343.40 211.43,548.58 Z"/><path class="b" d="M209.49,547.27 Q344.00,343.40 584.82,361.69 L585.00,359.10 Q344.00,343.40 211.43,548.58 Z"/><path d="M216.33,551.76 Q344.00,343.40 585.00,359.10 L585.15,356.51 Q344.00,343.40 217.81,552.70 Z"/><path class="b" d="M216.33,551.76 Q344.00,343.40 585.00,359.10 L585.15,356.51 Q344.00,343.40 217.81,552.70 Z"/><path d="M229.40,559.48 Q344.00,343.40 585.15,356.51 L585.27,353.92 Q344.00,343.40 230.43,560.03 Z"/><path class="b" d="M229.40,559.48 Q344.00,343.40 585.15,356.51 L585.27,353.92 Q344.00,343.40 230.43,560.03 Z"/><path d="M234.55,562.22 Q344.00,343.40 585.27,353.92 L585.37,351.32 Q344.00,343.40 236.11,563.02 Z"/><path class="b" d="M234.55,562.22 Q344.00,343.40 585.27,353.92 L585.37,351.32 Q344.00,343.40 236.11,563.02 Z"/><path d="M253.61,571.03 Q344.00,343.40 585.37,351.32 L585.43,348.73 Q344.00,343.40 255.23,571.69 Z"/><path class="b" d="M253.61,571.03 Q344.00,343.40 585.37,351.32 L585.43,348.73 Q344.00,343.40 255.23,571.69 Z"/><path d="M261.21,574.00 Q344.00,343.40 585.43,348.73 L585.48,346.14 Q344.00,343.40 262.30,574.40 Z"/><path class="b" d="M261.21,574.00 Q344.00,343.40 585.43,348.73 L585.48,346.14 Q344.00,343.40 262.30,574.40 Z"/><path d="M266.69,575.96 Q344.00,343.40 585.48,346.14 L585.49,343.54 Q344.00,343.40 268.35,576.52 Z"/><path class="b" d="M266.69,575.96 Q344.00,343.40 585.48,346.14 L585.49,343.54 Q344.00,343.40 268.35,576.52 Z"/><path d="M270.01,577.07 Q344.00,343.40 585.49,343.54 L585.48,340.95 Q344.00,343.40 273.34,578.13 Z"/><path class="b" d="M270.01,577.07 Q344.00,343.40 585.49,343.54 L585.48,340.95 Q344.00,343.40 273.34,578.13 Z"/><path d="M283.41,581.02 Q344.00,343.40 585.48,340.95 L585.44,338.35 Q344.00,343.40 286.79,581.89 Z"/><path class="b" d="M283.41,581.02 Q344.00,343.40 585.48,340.95 L585.44,338.35 Q344.00,343.40 286.79,581.89 Z"/><path d="M292.46,583.22 Q344.00,343.40 585.44,338.35 L585.37,335.76 Q344.00,343.40 294.74,583.71 Z"/><path class="b" d="M292.46,583.22 Q344.00,343.40 585.44,338.35 L585.37,335.76 Q344.00,343.40 294.74,583.71 Z"/><path d="M329.29,588.42 Q344.00,343.40 585.37,335.76 L585.28,333.16 Q344.00,343.40 330.45,588.49 Z"/><path class="b" d="M329.29,588.42 Q344.00,343.40 585.37,335.76 L585.28,333.16 Q344.00,343.40 330.45,588.49 Z"/></g><g fill="#24250A" stroke="#24250A"><path d="M351.46,98.04 Q344.00,343.40 458.90,559.31 L461.12,558.07 Q344.00,343.40 344.48,97.92 Z"/><path class="b" d="M351.46,98.04 Q344.00,343.40 458.90,559.31 L461.12,558.07 Q344.00,343.40 344.48,97.92 Z"/><path d="M304.53,101.23 Q344.00,343.40 461.12,558.07 L463.33,556.81 Q344.00,343.40 302.81,101.52 Z"/><path class="b" d="M304.53,101.23 Q344.00,343.40 461.12,558.07 L463.33,556.81 Q344.00,343.40 302.81,101.52 Z"/><path d="M297.66,102.49 Q344.00,343.40 463.33,556.81 L465.53,555.53 Q344.00,343.40 295.95,102.83 Z"/><path class="b" d="M297.66,102.49 Q344.00,343.40 463.33,556.81 L465.53,555.53 Q344.00,343.40 295.95,102.83 Z"/><path d="M219.87,132.84 Q344.00,343.40 465.53,555.53 L467.71,554.22 Q344.00,343.40 218.37,133.75 Z"/><path class="b" d="M219.87,132.84 Q344.00,343.40 465.53,555.53 L467.71,554.22 Q344.00,343.40 218.37,133.75 Z"/><path d="M203.81,143.52 Q344.00,343.40 467.71,554.22 L469.88,552.89 Q344.00,343.40 200.99,145.60 Z"/><path class="b" d="M203.81,143.52 Q344.00,343.40 467.71,554.22 L469.88,552.89 Q344.00,343.40 200.99,145.60 Z"/><path d="M196.80,148.80 Q344.00,343.40 469.88,552.89 L472.04,551.53 Q344.00,343.40 195.42,149.88 Z"/><path class="b" d="M196.80,148.80 Q344.00,343.40 469.88,552.89 L472.04,551.53 Q344.00,343.40 195.42,149.88 Z"/><path d="M176.12,166.94 Q344.00,343.40 472.04,551.53 L474.18,550.15 Q344.00,343.40 174.46,168.59 Z"/><path class="b" d="M176.12,166.94 Q344.00,343.40 472.04,551.53 L474.18,550.15 Q344.00,343.40 174.46,168.59 Z"/><path d="M170.36,172.80 Q344.00,343.40 474.18,550.15 L476.31,548.75 Q344.00,343.40 169.56,173.65 Z"/><path class="b" d="M170.36,172.80 Q344.00,343.40 474.18,550.15 L476.31,548.75 Q344.00,343.40 169.56,173.65 Z"/><path d="M165.59,177.97 Q344.00,343.40 476.31,548.75 L478.43,547.33 Q344.00,343.40 164.81,178.84 Z"/><path class="b" d="M165.59,177.97 Q344.00,343.40 476.31,548.75 L478.43,547.33 Q344.00,343.40 164.81,178.84 Z"/><path d="M160.96,183.28 Q344.00,343.40 478.43,547.33 L480.53,545.88 Q344.00,343.40 160.20,184.17 Z"/><path class="b" d="M160.96,183.28 Q344.00,343.40 478.43,547.33 L480.53,545.88 Q344.00,343.40 160.20,184.17 Z"/><path d="M141.44,209.75 Q344.00,343.40 480.53,545.88 L482.61,544.41 Q344.00,343.40 139.56,212.74 Z"/><path class="b" d="M141.44,209.75 Q344.00,343.40 480.53,545.88 L482.61,544.41 Q344.00,343.40 139.56,212.74 Z"/><path d="M133.04,223.93 Q344.00,343.40 482.61,544.41 L484.68,542.92 Q344.00,343.40 132.48,224.96 Z"/><path class="b" d="M133.04,223.93 Q344.00,343.40 482.61,544.41 L484.68,542.92 Q344.00,343.40 132.48,224.96 Z"/><path d="M129.73,230.17 Q344.00,343.40 484.68,542.92 L486.73,541.41 Q344.00,343.40 129.20,231.22 Z"/><path class="b" d="M129.73,230.17 Q344.00,343.40 484.68,542.92 L486.73,541.41 Q344.00,343.40 129.20,231.22 Z"/><path d="M123.90,242.40 Q344.00,343.40 486.73,541.41 L488.77,539.88 Q344.00,343.40 123.18,244.02 Z"/><path class="b" d="M123.90,242.40 Q344.00,343.40 486.73,541.41 L488.77,539.88 Q344.00,343.40 123.18,244.02 Z"/><path d="M121.79,247.28 Q344.00,343.40 488.77,539.88 L490.79,538.32 Q344.00,343.40 120.45,250.55 Z"/><path class="b" d="M121.79,247.28 Q344.00,343.40 488.77,539.88 L490.79,538.32 Q344.00,343.40 120.45,250.55 Z"/><path d="M112.37,273.97 Q344.00,343.40 490.79,538.32 L492.80,536.74 Q344.00,343.40 111.41,277.38 Z"/><path class="b" d="M112.37,273.97 Q344.00,343.40 490.79,538.32 L492.80,536.74 Q344.00,343.40 111.41,277.38 Z"/><path d="M110.20,281.95 Q344.00,343.40 492.80,536.74 L494.79,535.14 Q344.00,343.40 109.63,284.24 Z"/><path class="b" d="M110.20,281.95 Q344.00,343.40 492.80,536.74 L494.79,535.14 Q344.00,343.40 109.63,284.24 Z"/><path d="M105.65,303.92 Q344.00,343.40 494.79,535.14 L496.76,533.52 Q344.00,343.40 105.47,305.09 Z"/><path class="b" d="M105.65,303.92 Q344.00,343.40 494.79,535.14 L496.76,533.52 Q344.00,343.40 105.47,305.09 Z"/><path d="M105.47,305.09 Q344.00,343.40 496.76,533.52 L498.71,531.88 Q344.00,343.40 104.48,312.11 Z"/><path class="b" d="M105.47,305.09 Q344.00,343.40 496.76,533.52 L498.71,531.88 Q344.00,343.40 104.48,312.11 Z"/><path d="M102.76,332.13 Q344.00,343.40 498.71,531.88 L500.65,530.22 Q344.00,343.40 102.71,333.31 Z"/><path class="b" d="M102.76,332.13 Q344.00,343.40 498.71,531.88 L500.65,530.22 Q344.00,343.40 102.71,333.31 Z"/><path d="M102.59,336.86 Q344.00,343.40 500.65,530.22 L502.57,528.54 Q344.00,343.40 102.53,340.40 Z"/><path class="b" d="M102.59,336.86 Q344.00,343.40 500.65,530.22 L502.57,528.54 Q344.00,343.40 102.53,340.40 Z"/><path d="M102.53,340.40 Q344.00,343.40 502.57,528.54 L504.48,526.84 Q344.00,343.40 102.54,347.50 Z"/><path class="b" d="M102.53,340.40 Q344.00,343.40 502.57,528.54 L504.48,526.84 Q344.00,343.40 102.54,347.50 Z"/><path d="M102.71,353.41 Q344.00,343.40 504.48,526.84 L506.36,525.11 Q344.00,343.40 102.76,354.59 Z"/><path class="b" d="M102.71,353.41 Q344.00,343.40 504.48,526.84 L506.36,525.11 Q344.00,343.40 102.76,354.59 Z"/><path d="M103.02,359.31 Q344.00,343.40 506.36,525.11 L508.23,523.37 Q344.00,343.40 103.18,361.67 Z"/><path class="b" d="M103.02,359.31 Q344.00,343.40 506.36,525.11 L508.23,523.37 Q344.00,343.40 103.18,361.67 Z"/><path d="M103.46,365.21 Q344.00,343.40 508.23,523.37 L510.08,521.61 Q344.00,343.40 103.80,368.74 Z"/><path class="b" d="M103.46,365.21 Q344.00,343.40 508.23,523.37 L510.08,521.61 Q344.00,343.40 103.80,368.74 Z"/><path d="M106.54,388.04 Q344.00,343.40 510.08,521.61 L511.91,519.82 Q344.00,343.40 106.86,389.78 Z"/><path class="b" d="M106.54,388.04 Q344.00,343.40 510.08,521.61 L511.91,519.82 Q344.00,343.40 106.86,389.78 Z"/><path d="M107.90,395.00 Q344.00,343.40 511.91,519.82 L513.73,518.02 Q344.00,343.40 108.28,396.73 Z"/><path class="b" d="M107.90,395.00 Q344.00,343.40 511.91,519.82 L513.73,518.02 Q344.00,343.40 108.28,396.73 Z"/><path d="M109.47,401.91 Q344.00,343.40 513.73,518.02 L515.52,516.20 Q344.00,343.40 109.89,403.63 Z"/><path class="b" d="M109.47,401.91 Q344.00,343.40 513.73,518.02 L515.52,516.20 Q344.00,343.40 109.89,403.63 Z"/><path d="M111.08,408.20 Q344.00,343.40 515.52,516.20 L517.30,514.36 Q344.00,343.40 111.70,410.48 Z"/><path class="b" d="M111.08,408.20 Q344.00,343.40 515.52,516.20 L517.30,514.36 Q344.00,343.40 111.70,410.48 Z"/><path d="M113.19,415.58 Q344.00,343.40 517.30,514.36 L519.05,512.50 Q344.00,343.40 113.70,417.28 Z"/><path class="b" d="M113.19,415.58 Q344.00,343.40 517.30,514.36 L519.05,512.50 Q344.00,343.40 113.70,417.28 Z"/><path d="M120.20,435.63 Q344.00,343.40 519.05,512.50 L520.79,510.62 Q344.00,343.40 120.86,437.27 Z"/><path class="b" d="M120.20,435.63 Q344.00,343.40 519.05,512.50 L520.79,510.62 Q344.00,343.40 120.86,437.27 Z"/><path d="M122.22,440.54 Q344.00,343.40 520.79,510.62 L522.51,508.73 Q344.00,343.40 123.62,443.79 Z"/><path class="b" d="M122.22,440.54 Q344.00,343.40 520.79,510.62 L522.51,508.73 Q344.00,343.40 123.62,443.79 Z"/><path d="M125.57,448.08 Q344.00,343.40 522.51,508.73 L524.21,506.81 Q344.00,343.40 126.57,450.22 Z"/><path class="b" d="M125.57,448.08 Q344.00,343.40 522.51,508.73 L524.21,506.81 Q344.00,343.40 126.57,450.22 Z"/><path d="M128.90,454.98 Q344.00,343.40 524.21,506.81 L525.88,504.88 Q344.00,343.40 129.70,456.56 Z"/><path class="b" d="M128.90,454.98 Q344.00,343.40 524.21,506.81 L525.88,504.88 Q344.00,343.40 129.70,456.56 Z"/><path d="M132.16,461.25 Q344.00,343.40 525.88,504.88 L527.54,502.93 Q344.00,343.40 133.00,462.81 Z"/><path class="b" d="M132.16,461.25 Q344.00,343.40 525.88,504.88 L527.54,502.93 Q344.00,343.40 133.00,462.81 Z"/><path d="M139.21,473.50 Q344.00,343.40 527.54,502.93 L529.18,500.96 Q344.00,343.40 140.14,475.00 Z"/><path class="b" d="M139.21,473.50 Q344.00,343.40 527.54,502.93 L529.18,500.96 Q344.00,343.40 140.14,475.00 Z"/><path d="M143.00,479.46 Q344.00,343.40 529.18,500.96 L530.80,498.98 Q344.00,343.40 143.97,480.93 Z"/><path class="b" d="M143.00,479.46 Q344.00,343.40 529.18,500.96 L530.80,498.98 Q344.00,343.40 143.97,480.93 Z"/><path d="M159.78,502.11 Q344.00,343.40 530.80,498.98 L532.39,496.98 Q344.00,343.40 160.91,503.46 Z"/><path class="b" d="M159.78,502.11 Q344.00,343.40 530.80,498.98 L532.39,496.98 Q344.00,343.40 160.91,503.46 Z"/><path d="M169.50,513.10 Q344.00,343.40 532.39,496.98 L533.97,494.96 Q344.00,343.40 170.31,513.95 Z"/><path class="b" d="M169.50,513.10 Q344.00,343.40 532.39,496.98 L533.97,494.96 Q344.00,343.40 170.31,513.95 Z"/><path d="M173.99,517.73 Q344.00,343.40 533.97,494.96 L535.52,492.92 Q344.00,343.40 175.23,518.98 Z"/><path class="b" d="M173.99,517.73 Q344.00,343.40 533.97,494.96 L535.52,492.92 Q344.00,343.40 175.23,518.98 Z"/><path d="M179.01,522.66 Q344.00,343.40 535.52,492.92 L537.06,490.87 Q344.00,343.40 180.29,523.86 Z"/><path class="b" d="M179.01,522.66 Q344.00,343.40 535.52,492.92 L537.06,490.87 Q344.00,343.40 180.29,523.86 Z"/><path d="M200.92,541.15 Q344.00,343.40 537.06,490.87 L538.57,488.80 Q344.00,343.40 201.86,541.85 Z"/><path class="b" d="M200.92,541.15 Q344.00,343.40 537.06,490.87 L538.57,488.80 Q344.00,343.40 201.86,541.85 Z"/><path d="M206.13,544.94 Q344.00,343.40 538.57,488.80 L540.06,486.71 Q344.00,343.40 207.56,545.94 Z"/><path class="b" d="M206.13,544.94 Q344.00,343.40 538.57,488.80 L540.06,486.71 Q344.00,343.40 207.56,545.94 Z"/><path d="M211.43,548.58 Q344.00,343.40 540.06,486.71 L541.53,484.61 Q344.00,343.40 213.38,549.87 Z"/><path class="b" d="M211.43,548.58 Q344.00,343.40 540.06,486.71 L541.53,484.61 Q344.00,343.40 213.38,549.87 Z"/><path d="M217.81,552.70 Q344.00,343.40 541.53,484.61 L542.98,482.50 Q344.00,343.40 219.30,553.62 Z"/><path class="b" d="M217.81,552.70 Q344.00,343.40 541.53,484.61 L542.98,482.50 Q344.00,343.40 219.30,553.62 Z"/><path d="M230.43,560.03 Q344.00,343.40 542.98,482.50 L544.41,480.37 Q344.00,343.40 231.46,560.59 Z"/><path class="b" d="M230.43,560.03 Q344.00,343.40 542.98,482.50 L544.41,480.37 Q344.00,343.40 231.46,560.59 Z"/><path d="M236.11,563.02 Q344.00,343.40 544.41,480.37 L545.81,478.22 Q344.00,343.40 237.68,563.80 Z"/><path class="b" d="M236.11,563.02 Q344.00,343.40 544.41,480.37 L545.81,478.22 Q344.00,343.40 237.68,563.80 Z"/><path d="M255.23,571.69 Q344.00,343.40 545.81,478.22 L547.19,476.06 Q344.00,343.40 256.85,572.33 Z"/><path class="b" d="M255.23,571.69 Q344.00,343.40 545.81,478.22 L547.19,476.06 Q344.00,343.40 256.85,572.33 Z"/><path d="M262.30,574.40 Q344.00,343.40 547.19,476.06 L548.55,473.88 Q344.00,343.40 263.40,574.80 Z"/><path class="b" d="M262.30,574.40 Q344.00,343.40 547.19,476.06 L548.55,473.88 Q344.00,343.40 263.40,574.80 Z"/><path d="M268.35,576.52 Q344.00,343.40 548.55,473.88 L549.89,471.69 Q344.00,343.40 270.01,577.07 Z"/><path class="b" d="M268.35,576.52 Q344.00,343.40 548.55,473.88 L549.89,471.69 Q344.00,343.40 270.01,577.07 Z"/><path d="M273.34,578.13 Q344.00,343.40 549.89,471.69 L551.20,469.49 Q344.00,343.40 276.68,579.14 Z"/><path class="b" d="M273.34,578.13 Q344.00,343.40 549.89,471.69 L551.20,469.49 Q344.00,343.40 276.68,579.14 Z"/><path d="M286.79,581.89 Q344.00,343.40 551.20,469.49 L552.49,467.27 Q344.00,343.40 290.19,582.70 Z"/><path class="b" d="M286.79,581.89 Q344.00,343.40 551.20,469.49 L552.49,467.27 Q344.00,343.40 290.19,582.70 Z"/><path d="M294.74,583.71 Q344.00,343.40 552.49,467.27 L553.76,465.04 Q344.00,343.40 297.01,584.18 Z"/><path class="b" d="M294.74,583.71 Q344.00,343.40 552.49,467.27 L553.76,465.04 Q344.00,343.40 297.01,584.18 Z"/><path d="M317.70,587.42 Q344.00,343.40 553.76,465.04 L555.00,462.79 Q344.00,343.40 324.65,588.09 Z"/><path class="b" d="M317.70,587.42 Q344.00,343.40 553.76,465.04 L555.00,462.79 Q344.00,343.40 324.65,588.09 Z"/><path d="M330.45,588.49 Q344.00,343.40 555.00,462.79 L556.23,460.53 Q344.00,343.40 331.61,588.55 Z"/><path class="b" d="M330.45,588.49 Q344.00,343.40 555.00,462.79 L556.23,460.53 Q344.00,343.40 331.61,588.55 Z"/></g><g fill="#595A12" stroke="#595A12"><path d="M334.02,98.13 Q344.00,343.40 397.21,582.84 L399.79,582.24 Q344.00,343.40 330.53,98.31 Z"/><path class="b" d="M334.02,98.13 Q344.00,343.40 397.21,582.84 L399.79,582.24 Q344.00,343.40 330.53,98.31 Z"/><path d="M313.16,99.93 Q344.00,343.40 399.79,582.24 L402.36,581.60 Q344.00,343.40 309.70,100.41 Z"/><path class="b" d="M313.16,99.93 Q344.00,343.40 399.79,582.24 L402.36,581.60 Q344.00,343.40 309.70,100.41 Z"/><path d="M285.74,105.17 Q344.00,343.40 402.36,581.60 L404.92,580.94 Q344.00,343.40 282.36,106.06 Z"/><path class="b" d="M285.74,105.17 Q344.00,343.40 402.36,581.60 L404.92,580.94 Q344.00,343.40 282.36,106.06 Z"/><path d="M265.67,111.20 Q344.00,343.40 404.92,580.94 L407.47,580.24 Q344.00,343.40 262.37,112.37 Z"/><path class="b" d="M265.67,111.20 Q344.00,343.40 404.92,580.94 L407.47,580.24 Q344.00,343.40 262.37,112.37 Z"/><path d="M233.59,125.08 Q344.00,343.40 407.47,580.24 L410.02,579.52 Q344.00,343.40 230.50,126.73 Z"/><path class="b" d="M233.59,125.08 Q344.00,343.40 407.47,580.24 L410.02,579.52 Q344.00,343.40 230.50,126.73 Z"/><path d="M227.43,128.42 Q344.00,343.40 410.02,579.52 L412.56,578.78 Q344.00,343.40 224.38,130.15 Z"/><path class="b" d="M227.43,128.42 Q344.00,343.40 410.02,579.52 L412.56,578.78 Q344.00,343.40 224.38,130.15 Z"/><path d="M157.96,186.89 Q344.00,343.40 412.56,578.78 L415.09,578.00 Q344.00,343.40 155.75,189.64 Z"/><path class="b" d="M157.96,186.89 Q344.00,343.40 412.56,578.78 L415.09,578.00 Q344.00,343.40 155.75,189.64 Z"/><path d="M153.59,192.42 Q344.00,343.40 415.09,578.00 L417.61,577.19 Q344.00,343.40 151.46,195.23 Z"/><path class="b" d="M153.59,192.42 Q344.00,343.40 415.09,578.00 L417.61,577.19 Q344.00,343.40 151.46,195.23 Z"/><path d="M149.37,198.08 Q344.00,343.40 417.61,577.19 L420.13,576.36 Q344.00,343.40 147.33,200.95 Z"/><path class="b" d="M149.37,198.08 Q344.00,343.40 417.61,577.19 L420.13,576.36 Q344.00,343.40 147.33,200.95 Z"/><path d="M145.32,203.85 Q344.00,343.40 420.13,576.36 L422.63,575.50 Q344.00,343.40 143.36,206.79 Z"/><path class="b" d="M145.32,203.85 Q344.00,343.40 420.13,576.36 L422.63,575.50 Q344.00,343.40 143.36,206.79 Z"/><path d="M137.73,215.75 Q344.00,343.40 422.63,575.50 L425.12,574.61 Q344.00,343.40 135.93,218.80 Z"/><path class="b" d="M137.73,215.75 Q344.00,343.40 422.63,575.50 L425.12,574.61 Q344.00,343.40 135.93,218.80 Z"/><path d="M127.63,234.39 Q344.00,343.40 425.12,574.61 L427.61,573.69 Q344.00,343.40 126.10,237.58 Z"/><path class="b" d="M127.63,234.39 Q344.00,343.40 425.12,574.61 L427.61,573.69 Q344.00,343.40 126.10,237.58 Z"/><path d="M119.15,253.84 Q344.00,343.40 427.61,573.69 L430.08,572.75 Q344.00,343.40 117.90,257.15 Z"/><path class="b" d="M119.15,253.84 Q344.00,343.40 427.61,573.69 L430.08,572.75 Q344.00,343.40 117.90,257.15 Z"/><path d="M114.44,267.20 Q344.00,343.40 430.08,572.75 L432.55,571.78 Q344.00,343.40 113.38,270.58 Z"/><path class="b" d="M114.44,267.20 Q344.00,343.40 430.08,572.75 L432.55,571.78 Q344.00,343.40 113.38,270.58 Z"/><path d="M107.33,294.62 Q344.00,343.40 432.55,571.78 L435.00,570.78 Q344.00,343.40 106.66,298.10 Z"/><path class="b" d="M107.33,294.62 Q344.00,343.40 432.55,571.78 L435.00,570.78 Q344.00,343.40 106.66,298.10 Z"/><path d="M104.06,315.63 Q344.00,343.40 435.00,570.78 L437.45,569.75 Q344.00,343.40 103.69,319.16 Z"/><path class="b" d="M104.06,315.63 Q344.00,343.40 435.00,570.78 L437.45,569.75 Q344.00,343.40 103.69,319.16 Z"/><path d="M104.18,372.26 Q344.00,343.40 437.45,569.75 L439.88,568.70 Q344.00,343.40 104.62,375.78 Z"/><path class="b" d="M104.18,372.26 Q344.00,343.40 437.45,569.75 L439.88,568.70 Q344.00,343.40 104.62,375.78 Z"/><path d="M105.10,379.29 Q344.00,343.40 439.88,568.70 L442.30,567.62 Q344.00,343.40 105.64,382.80 Z"/><path class="b" d="M105.10,379.29 Q344.00,343.40 439.88,568.70 L442.30,567.62 Q344.00,343.40 105.64,382.80 Z"/><path d="M114.78,420.65 Q344.00,343.40 442.30,567.62 L444.71,566.51 Q344.00,343.40 115.90,424.01 Z"/><path class="b" d="M114.78,420.65 Q344.00,343.40 442.30,567.62 L444.71,566.51 Q344.00,343.40 115.90,424.01 Z"/><path d="M154.26,495.25 Q344.00,343.40 444.71,566.51 L447.10,565.38 Q344.00,343.40 156.43,498.02 Z"/><path class="b" d="M154.26,495.25 Q344.00,343.40 444.71,566.51 L447.10,565.38 Q344.00,343.40 156.43,498.02 Z"/><path d="M188.14,530.90 Q344.00,343.40 447.10,565.38 L449.49,564.22 Q344.00,343.40 190.82,533.17 Z"/><path class="b" d="M188.14,530.90 Q344.00,343.40 447.10,565.38 L449.49,564.22 Q344.00,343.40 190.82,533.17 Z"/><path d="M193.54,535.40 Q344.00,343.40 449.49,564.22 L451.86,563.03 Q344.00,343.40 196.28,537.59 Z"/><path class="b" d="M193.54,535.40 Q344.00,343.40 449.49,564.22 L451.86,563.03 Q344.00,343.40 196.28,537.59 Z"/><path d="M222.30,555.43 Q344.00,343.40 451.86,563.03 L454.22,561.82 Q344.00,343.40 225.33,557.19 Z"/><path class="b" d="M222.30,555.43 Q344.00,343.40 451.86,563.03 L454.22,561.82 Q344.00,343.40 225.33,557.19 Z"/><path d="M247.17,568.28 Q344.00,343.40 454.22,561.82 L456.56,560.58 Q344.00,343.40 250.38,569.68 Z"/><path class="b" d="M247.17,568.28 Q344.00,343.40 454.22,561.82 L456.56,560.58 Q344.00,343.40 250.38,569.68 Z"/><path d="M314.24,587.00 Q344.00,343.40 456.56,560.58 L458.90,559.31 Q344.00,343.40 317.70,587.42 Z"/><path class="b" d="M314.24,587.00 Q344.00,343.40 456.56,560.58 L458.90,559.31 Q344.00,343.40 317.70,587.42 Z"/></g><g fill="#A4145A" stroke="#A4145A"><path d="M337.50,98.01 Q344.00,343.40 331.61,588.55 L334.25,588.68 Q344.00,343.40 334.02,98.13 Z"/><path class="b" d="M337.50,98.01 Q344.00,343.40 331.61,588.55 L334.25,588.68 Q344.00,343.40 334.02,98.13 Z"/><path d="M316.62,99.51 Q344.00,343.40 334.25,588.68 L336.89,588.77 Q344.00,343.40 313.16,99.93 Z"/><path class="b" d="M316.62,99.51 Q344.00,343.40 334.25,588.68 L336.89,588.77 Q344.00,343.40 313.16,99.93 Z"/><path d="M289.13,104.34 Q344.00,343.40 336.89,588.77 L339.53,588.83 Q344.00,343.40 285.74,105.17 Z"/><path class="b" d="M289.13,104.34 Q344.00,343.40 336.89,588.77 L339.53,588.83 Q344.00,343.40 285.74,105.17 Z"/><path d="M268.97,110.07 Q344.00,343.40 339.53,588.83 L342.18,588.87 Q344.00,343.40 265.67,111.20 Z"/><path class="b" d="M268.97,110.07 Q344.00,343.40 339.53,588.83 L342.18,588.87 Q344.00,343.40 265.67,111.20 Z"/><path d="M236.70,123.48 Q344.00,343.40 342.18,588.87 L344.82,588.87 Q344.00,343.40 233.59,125.08 Z"/><path class="b" d="M236.70,123.48 Q344.00,343.40 342.18,588.87 L344.82,588.87 Q344.00,343.40 233.59,125.08 Z"/><path d="M230.50,126.73 Q344.00,343.40 344.82,588.87 L347.46,588.85 Q344.00,343.40 227.43,128.42 Z"/><path class="b" d="M230.50,126.73 Q344.00,343.40 344.82,588.87 L347.46,588.85 Q344.00,343.40 227.43,128.42 Z"/><path d="M160.20,184.17 Q344.00,343.40 347.46,588.85 L350.10,588.80 Q344.00,343.40 157.96,186.89 Z"/><path class="b" d="M160.20,184.17 Q344.00,343.40 347.46,588.85 L350.10,588.80 Q344.00,343.40 157.96,186.89 Z"/><path d="M155.75,189.64 Q344.00,343.40 350.10,588.80 L352.74,588.72 Q344.00,343.40 153.59,192.42 Z"/><path class="b" d="M155.75,189.64 Q344.00,343.40 350.10,588.80 L352.74,588.72 Q344.00,343.40 153.59,192.42 Z"/><path d="M151.46,195.23 Q344.00,343.40 352.74,588.72 L355.38,588.60 Q344.00,343.40 149.37,198.08 Z"/><path class="b" d="M151.46,195.23 Q344.00,343.40 352.74,588.72 L355.38,588.60 Q344.00,343.40 149.37,198.08 Z"/><path d="M147.33,200.95 Q344.00,343.40 355.38,588.60 L358.02,588.46 Q344.00,343.40 145.32,203.85 Z"/><path class="b" d="M147.33,200.95 Q344.00,343.40 355.38,588.60 L358.02,588.46 Q344.00,343.40 145.32,203.85 Z"/><path d="M139.56,212.74 Q344.00,343.40 358.02,588.46 L360.66,588.29 Q344.00,343.40 137.73,215.75 Z"/><path class="b" d="M139.56,212.74 Q344.00,343.40 358.02,588.46 L360.66,588.29 Q344.00,343.40 137.73,215.75 Z"/><path d="M129.20,231.22 Q344.00,343.40 360.66,588.29 L363.29,588.09 Q344.00,343.40 127.63,234.39 Z"/><path class="b" d="M129.20,231.22 Q344.00,343.40 360.66,588.29 L363.29,588.09 Q344.00,343.40 127.63,234.39 Z"/><path d="M120.45,250.55 Q344.00,343.40 363.29,588.09 L365.92,587.86 Q344.00,343.40 119.15,253.84 Z"/><path class="b" d="M120.45,250.55 Q344.00,343.40 363.29,588.09 L365.92,587.86 Q344.00,343.40 119.15,253.84 Z"/><path d="M115.55,263.83 Q344.00,343.40 365.92,587.86 L368.55,587.60 Q344.00,343.40 114.44,267.20 Z"/><path class="b" d="M115.55,263.83 Q344.00,343.40 365.92,587.86 L368.55,587.60 Q344.00,343.40 114.44,267.20 Z"/><path d="M108.04,291.15 Q344.00,343.40 368.55,587.60 L371.18,587.32 Q344.00,343.40 107.33,294.62 Z"/><path class="b" d="M108.04,291.15 Q344.00,343.40 368.55,587.60 L371.18,587.32 Q344.00,343.40 107.33,294.62 Z"/><path d="M104.48,312.11 Q344.00,343.40 371.18,587.32 L373.80,587.00 Q344.00,343.40 104.06,315.63 Z"/><path class="b" d="M104.48,312.11 Q344.00,343.40 371.18,587.32 L373.80,587.00 Q344.00,343.40 104.06,315.63 Z"/><path d="M103.80,368.74 Q344.00,343.40 373.80,587.00 L376.42,586.65 Q344.00,343.40 104.18,372.26 Z"/><path class="b" d="M103.80,368.74 Q344.00,343.40 373.80,587.00 L376.42,586.65 Q344.00,343.40 104.18,372.26 Z"/><path d="M104.62,375.78 Q344.00,343.40 376.42,586.65 L379.04,586.28 Q344.00,343.40 105.10,379.29 Z"/><path class="b" d="M104.62,375.78 Q344.00,343.40 376.42,586.65 L379.04,586.28 Q344.00,343.40 105.10,379.29 Z"/><path d="M113.70,417.28 Q344.00,343.40 379.04,586.28 L381.65,585.87 Q344.00,343.40 114.78,420.65 Z"/><path class="b" d="M113.70,417.28 Q344.00,343.40 379.04,586.28 L381.65,585.87 Q344.00,343.40 114.78,420.65 Z"/><path d="M152.12,492.45 Q344.00,343.40 381.65,585.87 L384.26,585.44 Q344.00,343.40 154.26,495.25 Z"/><path class="b" d="M152.12,492.45 Q344.00,343.40 381.65,585.87 L384.26,585.44 Q344.00,343.40 154.26,495.25 Z"/><path d="M185.49,528.60 Q344.00,343.40 384.26,585.44 L386.86,584.98 Q344.00,343.40 188.14,530.90 Z"/><path class="b" d="M185.49,528.60 Q344.00,343.40 384.26,585.44 L386.86,584.98 Q344.00,343.40 188.14,530.90 Z"/><path d="M190.82,533.17 Q344.00,343.40 386.86,584.98 L389.46,584.49 Q344.00,343.40 193.54,535.40 Z"/><path class="b" d="M190.82,533.17 Q344.00,343.40 386.86,584.98 L389.46,584.49 Q344.00,343.40 193.54,535.40 Z"/><path d="M219.30,553.62 Q344.00,343.40 389.46,584.49 L392.05,583.97 Q344.00,343.40 222.30,555.43 Z"/><path class="b" d="M219.30,553.62 Q344.00,343.40 389.46,584.49 L392.05,583.97 Q344.00,343.40 222.30,555.43 Z"/><path d="M243.99,566.83 Q344.00,343.40 392.05,583.97 L394.63,583.42 Q344.00,343.40 247.17,568.28 Z"/><path class="b" d="M243.99,566.83 Q344.00,343.40 392.05,583.97 L394.63,583.42 Q344.00,343.40 247.17,568.28 Z"/><path d="M310.78,586.54 Q344.00,343.40 394.63,583.42 L397.21,582.84 Q344.00,343.40 314.24,587.00 Z"/><path class="b" d="M310.78,586.54 Q344.00,343.40 394.63,583.42 L397.21,582.84 Q344.00,343.40 314.24,587.00 Z"/></g></g>
<g stroke="#000" stroke-width="1.5">
<path d="M396.93,40.14 A303.00,308.00 0 0 0 353.36,35.55 L351.46,98.04 A241.49,245.48 0 0 1 386.18,101.70 Z" fill="#A50606"/>
<path d="M441.30,51.71 A303.00,308.00 0 0 0 396.93,40.14 L386.18,101.70 A241.49,245.48 0 0 1 421.54,110.92 Z" fill="#EE600C"/>
<path d="M534.52,103.90 A303.00,308.00 0 0 0 441.30,51.71 L421.54,110.92 A241.49,245.48 0 0 1 495.84,152.52 Z" fill="#2C9AB6"/>
<path d="M605.53,187.87 A303.00,308.00 0 0 0 534.52,103.90 L495.84,152.52 A241.49,245.48 0 0 1 552.44,219.44 Z" fill="#2E8A1E"/>
<path d="M634.82,256.95 A303.00,308.00 0 0 0 605.53,187.87 L552.44,219.44 A241.49,245.48 0 0 1 575.78,274.50 Z" fill="#0C400E"/>
<path d="M646.74,330.56 A303.00,308.00 0 0 0 634.82,256.95 L575.78,274.50 A241.49,245.48 0 0 1 585.28,333.16 Z" fill="#2F4E9E"/>
<path d="M610.28,490.36 A303.00,308.00 0 0 0 646.74,330.56 L585.28,333.16 A241.49,245.48 0 0 1 556.23,460.53 Z" fill="#0B1458"/>
<path d="M488.16,614.31 A303.00,308.00 0 0 0 610.28,490.36 L556.23,460.53 A241.49,245.48 0 0 1 458.90,559.31 Z" fill="#24250A"/>
<path d="M410.77,643.83 A303.00,308.00 0 0 0 488.16,614.31 L458.90,559.31 A241.49,245.48 0 0 1 397.21,582.84 Z" fill="#595A12"/>
<path d="M328.46,650.99 A303.00,308.00 0 0 0 410.77,643.83 L397.21,582.84 A241.49,245.48 0 0 1 331.61,588.55 Z" fill="#A4145A"/>
</g>
<g stroke="#000" stroke-width="2.0">
<path d="M353.36,35.55 A303.00,308.00 0 0 0 344.60,35.40 L344.52,80.06 A259.06,263.34 0 0 1 352.00,80.19 Z" fill="#1A2276"/>
<path d="M344.60,35.40 A303.00,308.00 0 0 0 335.85,35.51 L337.03,80.16 A259.06,263.34 0 0 1 344.52,80.06 Z" fill="#C6C6E6"/>
<path d="M335.85,35.51 A303.00,308.00 0 0 0 327.10,35.88 L329.55,80.47 A259.06,263.34 0 0 1 337.03,80.16 Z" fill="#A6A6D6"/>
<path d="M327.10,35.88 A303.00,308.00 0 0 0 318.36,36.50 L322.08,81.00 A259.06,263.34 0 0 1 329.55,80.47 Z" fill="#B6B6DE"/>
<path d="M318.36,36.50 A303.00,308.00 0 0 0 309.65,37.39 L314.63,81.76 A259.06,263.34 0 0 1 322.08,81.00 Z" fill="#C6C6E6"/>
<path d="M309.65,37.39 A303.00,308.00 0 0 0 300.97,38.52 L307.21,82.73 A259.06,263.34 0 0 1 314.63,81.76 Z" fill="#9494CC"/>
<path d="M300.97,38.52 A303.00,308.00 0 0 0 292.32,39.91 L299.81,83.92 A259.06,263.34 0 0 1 307.21,82.73 Z" fill="#DCDCF0"/>
<path d="M292.32,39.91 A303.00,308.00 0 0 0 283.71,41.56 L292.45,85.33 A259.06,263.34 0 0 1 299.81,83.92 Z" fill="#9494CC"/>
<path d="M283.71,41.56 A303.00,308.00 0 0 0 275.16,43.46 L285.14,86.95 A259.06,263.34 0 0 1 292.45,85.33 Z" fill="#8484C4"/>
<path d="M275.16,43.46 A303.00,308.00 0 0 0 266.66,45.60 L277.87,88.78 A259.06,263.34 0 0 1 285.14,86.95 Z" fill="#9494CC"/>
<path d="M266.66,45.60 A303.00,308.00 0 0 0 258.23,48.00 L270.66,90.83 A259.06,263.34 0 0 1 277.87,88.78 Z" fill="#A6A6D6"/>
<path d="M258.23,48.00 A303.00,308.00 0 0 0 249.87,50.64 L263.51,93.09 A259.06,263.34 0 0 1 270.66,90.83 Z" fill="#A6A6D6"/>
<path d="M249.87,50.64 A303.00,308.00 0 0 0 241.58,53.53 L256.43,95.56 A259.06,263.34 0 0 1 263.51,93.09 Z" fill="#5454A8"/>
<path d="M241.58,53.53 A303.00,308.00 0 0 0 233.38,56.66 L249.42,98.24 A259.06,263.34 0 0 1 256.43,95.56 Z" fill="#A6A6D6"/>
<path d="M233.38,56.66 A303.00,308.00 0 0 0 225.28,60.03 L242.49,101.12 A259.06,263.34 0 0 1 249.42,98.24 Z" fill="#A6A6D6"/>
<path d="M225.28,60.03 A303.00,308.00 0 0 0 217.27,63.63 L235.65,104.20 A259.06,263.34 0 0 1 242.49,101.12 Z" fill="#1A2276"/>
<path d="M217.27,63.63 A303.00,308.00 0 0 0 209.37,67.47 L228.89,107.48 A259.06,263.34 0 0 1 235.65,104.20 Z" fill="#C6C6E6"/>
<path d="M209.37,67.47 A303.00,308.00 0 0 0 201.59,71.54 L222.24,110.96 A259.06,263.34 0 0 1 228.89,107.48 Z" fill="#C6C6E6"/>
<path d="M201.59,71.54 A303.00,308.00 0 0 0 193.92,75.84 L215.68,114.63 A259.06,263.34 0 0 1 222.24,110.96 Z" fill="#C6C6E6"/>
<path d="M193.92,75.84 A303.00,308.00 0 0 0 186.37,80.36 L209.23,118.50 A259.06,263.34 0 0 1 215.68,114.63 Z" fill="#F2B6B0"/>
<path d="M186.37,80.36 A303.00,308.00 0 0 0 178.96,85.10 L202.89,122.55 A259.06,263.34 0 0 1 209.23,118.50 Z" fill="#F4BEB6"/>
<path d="M178.96,85.10 A303.00,308.00 0 0 0 171.69,90.05 L196.67,126.79 A259.06,263.34 0 0 1 202.89,122.55 Z" fill="#5454A8"/>
<path d="M171.69,90.05 A303.00,308.00 0 0 0 164.56,95.22 L190.58,131.21 A259.06,263.34 0 0 1 196.67,126.79 Z" fill="#B6B6DE"/>
<path d="M164.56,95.22 A303.00,308.00 0 0 0 157.58,100.59 L184.61,135.80 A259.06,263.34 0 0 1 190.58,131.21 Z" fill="#A6A6D6"/>
<path d="M157.58,100.59 A303.00,308.00 0 0 0 150.76,106.17 L178.78,140.57 A259.06,263.34 0 0 1 184.61,135.80 Z" fill="#A6A6D6"/>
<path d="M150.76,106.17 A303.00,308.00 0 0 0 144.09,111.95 L173.08,145.51 A259.06,263.34 0 0 1 178.78,140.57 Z" fill="#C6C6E6"/>
<path d="M144.09,111.95 A303.00,308.00 0 0 0 137.60,117.91 L167.52,150.61 A259.06,263.34 0 0 1 173.08,145.51 Z" fill="#1A2276"/>
<path d="M137.60,117.91 A303.00,308.00 0 0 0 131.27,124.07 L162.12,155.87 A259.06,263.34 0 0 1 167.52,150.61 Z" fill="#C6C6E6"/>
<path d="M131.27,124.07 A303.00,308.00 0 0 0 125.13,130.41 L156.86,161.29 A259.06,263.34 0 0 1 162.12,155.87 Z" fill="#A6A6D6"/>
<path d="M125.13,130.41 A303.00,308.00 0 0 0 119.16,136.93 L151.76,166.87 A259.06,263.34 0 0 1 156.86,161.29 Z" fill="#A6A6D6"/>
<path d="M119.16,136.93 A303.00,308.00 0 0 0 113.39,143.62 L146.83,172.59 A259.06,263.34 0 0 1 151.76,166.87 Z" fill="#8484C4"/>
<path d="M113.39,143.62 A303.00,308.00 0 0 0 107.81,150.48 L142.05,178.45 A259.06,263.34 0 0 1 146.83,172.59 Z" fill="#B6B6DE"/>
<path d="M107.81,150.48 A303.00,308.00 0 0 0 102.42,157.49 L137.45,184.45 A259.06,263.34 0 0 1 142.05,178.45 Z" fill="#F2B6B0"/>
<path d="M102.42,157.49 A303.00,308.00 0 0 0 97.24,164.67 L133.02,190.58 A259.06,263.34 0 0 1 137.45,184.45 Z" fill="#6A6AB6"/>
<path d="M97.24,164.67 A303.00,308.00 0 0 0 92.26,171.99 L128.76,196.84 A259.06,263.34 0 0 1 133.02,190.58 Z" fill="#5454A8"/>
<path d="M92.26,171.99 A303.00,308.00 0 0 0 87.49,179.46 L124.68,203.23 A259.06,263.34 0 0 1 128.76,196.84 Z" fill="#C6C6E6"/>
<path d="M87.49,179.46 A303.00,308.00 0 0 0 82.94,187.06 L120.79,209.73 A259.06,263.34 0 0 1 124.68,203.23 Z" fill="#C6C6E6"/>
<path d="M82.94,187.06 A303.00,308.00 0 0 0 78.60,194.79 L117.08,216.34 A259.06,263.34 0 0 1 120.79,209.73 Z" fill="#8484C4"/>
<path d="M78.60,194.79 A303.00,308.00 0 0 0 74.49,202.65 L113.57,223.06 A259.06,263.34 0 0 1 117.08,216.34 Z" fill="#9494CC"/>
<path d="M74.49,202.65 A303.00,308.00 0 0 0 70.60,210.62 L110.24,229.88 A259.06,263.34 0 0 1 113.57,223.06 Z" fill="#C6C6E6"/>
<path d="M70.60,210.62 A303.00,308.00 0 0 0 66.94,218.71 L107.11,236.79 A259.06,263.34 0 0 1 110.24,229.88 Z" fill="#F2B6B0"/>
<path d="M66.94,218.71 A303.00,308.00 0 0 0 63.51,226.90 L104.18,243.79 A259.06,263.34 0 0 1 107.11,236.79 Z" fill="#8484C4"/>
<path d="M63.51,226.90 A303.00,308.00 0 0 0 60.32,235.19 L101.45,250.88 A259.06,263.34 0 0 1 104.18,243.79 Z" fill="#A6A6D6"/>
<path d="M60.32,235.19 A303.00,308.00 0 0 0 57.36,243.57 L98.92,258.04 A259.06,263.34 0 0 1 101.45,250.88 Z" fill="#C6C6E6"/>
<path d="M57.36,243.57 A303.00,308.00 0 0 0 54.64,252.03 L96.60,265.28 A259.06,263.34 0 0 1 98.92,258.04 Z" fill="#C6C6E6"/>
<path d="M54.64,252.03 A303.00,308.00 0 0 0 52.16,260.56 L94.48,272.58 A259.06,263.34 0 0 1 96.60,265.28 Z" fill="#6A6AB6"/>
<path d="M52.16,260.56 A303.00,308.00 0 0 0 49.93,269.17 L92.57,279.93 A259.06,263.34 0 0 1 94.48,272.58 Z" fill="#F2B6B0"/>
<path d="M49.93,269.17 A303.00,308.00 0 0 0 47.94,277.84 L90.87,287.35 A259.06,263.34 0 0 1 92.57,279.93 Z" fill="#E01212"/>
<path d="M47.94,277.84 A303.00,308.00 0 0 0 46.20,286.56 L89.38,294.80 A259.06,263.34 0 0 1 90.87,287.35 Z" fill="#B6B6DE"/>
<path d="M46.20,286.56 A303.00,308.00 0 0 0 44.71,295.33 L88.11,302.30 A259.06,263.34 0 0 1 89.38,294.80 Z" fill="#C6C6E6"/>
<path d="M44.71,295.33 A303.00,308.00 0 0 0 43.47,304.14 L87.05,309.84 A259.06,263.34 0 0 1 88.11,302.30 Z" fill="#C6C6E6"/>
<path d="M43.47,304.14 A303.00,308.00 0 0 0 42.48,312.99 L86.20,317.40 A259.06,263.34 0 0 1 87.05,309.84 Z" fill="#8484C4"/>
<path d="M42.48,312.99 A303.00,308.00 0 0 0 41.74,321.86 L85.57,324.98 A259.06,263.34 0 0 1 86.20,317.40 Z" fill="#9494CC"/>
<path d="M41.74,321.86 A303.00,308.00 0 0 0 41.26,330.74 L85.15,332.58 A259.06,263.34 0 0 1 85.57,324.98 Z" fill="#1A2276"/>
<path d="M41.26,330.74 A303.00,308.00 0 0 0 41.02,339.64 L84.95,340.19 A259.06,263.34 0 0 1 85.15,332.58 Z" fill="#F2B6B0"/>
<path d="M41.02,339.64 A303.00,308.00 0 0 0 41.04,348.54 L84.97,347.80 A259.06,263.34 0 0 1 84.95,340.19 Z" fill="#A6A6D6"/>
<path d="M41.04,348.54 A303.00,308.00 0 0 0 41.31,357.44 L85.20,355.40 A259.06,263.34 0 0 1 84.97,347.80 Z" fill="#8484C4"/>
<path d="M41.31,357.44 A303.00,308.00 0 0 0 41.84,366.32 L85.65,363.00 A259.06,263.34 0 0 1 85.20,355.40 Z" fill="#9494CC"/>
<path d="M41.84,366.32 A303.00,308.00 0 0 0 42.62,375.19 L86.32,370.58 A259.06,263.34 0 0 1 85.65,363.00 Z" fill="#F2B6B0"/>
<path d="M42.62,375.19 A303.00,308.00 0 0 0 43.65,384.03 L87.20,378.14 A259.06,263.34 0 0 1 86.32,370.58 Z" fill="#6A6AB6"/>
<path d="M43.65,384.03 A303.00,308.00 0 0 0 44.93,392.83 L88.29,385.67 A259.06,263.34 0 0 1 87.20,378.14 Z" fill="#A6A6D6"/>
<path d="M44.93,392.83 A303.00,308.00 0 0 0 46.46,401.60 L89.60,393.16 A259.06,263.34 0 0 1 88.29,385.67 Z" fill="#C6C6E6"/>
<path d="M46.46,401.60 A303.00,308.00 0 0 0 48.24,410.31 L91.12,400.61 A259.06,263.34 0 0 1 89.60,393.16 Z" fill="#A6A6D6"/>
<path d="M48.24,410.31 A303.00,308.00 0 0 0 50.26,418.97 L92.85,408.01 A259.06,263.34 0 0 1 91.12,400.61 Z" fill="#B6B6DE"/>
<path d="M50.26,418.97 A303.00,308.00 0 0 0 52.53,427.57 L94.80,415.36 A259.06,263.34 0 0 1 92.85,408.01 Z" fill="#8484C4"/>
<path d="M52.53,427.57 A303.00,308.00 0 0 0 55.05,436.09 L96.95,422.65 A259.06,263.34 0 0 1 94.80,415.36 Z" fill="#E66262"/>
<path d="M55.05,436.09 A303.00,308.00 0 0 0 57.80,444.54 L99.30,429.88 A259.06,263.34 0 0 1 96.95,422.65 Z" fill="#F2B6B0"/>
<path d="M57.80,444.54 A303.00,308.00 0 0 0 60.80,452.91 L101.86,437.03 A259.06,263.34 0 0 1 99.30,429.88 Z" fill="#E66262"/>
<path d="M60.80,452.91 A303.00,308.00 0 0 0 64.03,461.18 L104.62,444.10 A259.06,263.34 0 0 1 101.86,437.03 Z" fill="#8484C4"/>
<path d="M64.03,461.18 A303.00,308.00 0 0 0 67.49,469.35 L107.59,451.09 A259.06,263.34 0 0 1 104.62,444.10 Z" fill="#9494CC"/>
<path d="M67.49,469.35 A303.00,308.00 0 0 0 71.19,477.42 L110.75,457.99 A259.06,263.34 0 0 1 107.59,451.09 Z" fill="#C6C6E6"/>
<path d="M71.19,477.42 A303.00,308.00 0 0 0 75.11,485.38 L114.10,464.79 A259.06,263.34 0 0 1 110.75,457.99 Z" fill="#B6B6DE"/>
<path d="M75.11,485.38 A303.00,308.00 0 0 0 79.26,493.22 L117.65,471.49 A259.06,263.34 0 0 1 114.10,464.79 Z" fill="#9494CC"/>
<path d="M79.26,493.22 A303.00,308.00 0 0 0 83.63,500.93 L121.38,478.09 A259.06,263.34 0 0 1 117.65,471.49 Z" fill="#C6C6E6"/>
<path d="M83.63,500.93 A303.00,308.00 0 0 0 88.22,508.51 L125.31,484.57 A259.06,263.34 0 0 1 121.38,478.09 Z" fill="#C6C6E6"/>
<path d="M88.22,508.51 A303.00,308.00 0 0 0 93.02,515.96 L129.41,490.94 A259.06,263.34 0 0 1 125.31,484.57 Z" fill="#8484C4"/>
<path d="M93.02,515.96 A303.00,308.00 0 0 0 98.03,523.26 L133.69,497.18 A259.06,263.34 0 0 1 129.41,490.94 Z" fill="#A6A6D6"/>
<path d="M98.03,523.26 A303.00,308.00 0 0 0 103.24,530.41 L138.15,503.29 A259.06,263.34 0 0 1 133.69,497.18 Z" fill="#9494CC"/>
<path d="M103.24,530.41 A303.00,308.00 0 0 0 108.66,537.40 L142.78,509.27 A259.06,263.34 0 0 1 138.15,503.29 Z" fill="#C6C6E6"/>
<path d="M108.66,537.40 A303.00,308.00 0 0 0 114.27,544.23 L147.58,515.11 A259.06,263.34 0 0 1 142.78,509.27 Z" fill="#9494CC"/>
<path d="M114.27,544.23 A303.00,308.00 0 0 0 120.08,550.90 L152.55,520.81 A259.06,263.34 0 0 1 147.58,515.11 Z" fill="#C6C6E6"/>
<path d="M120.08,550.90 A303.00,308.00 0 0 0 126.07,557.39 L157.67,526.36 A259.06,263.34 0 0 1 152.55,520.81 Z" fill="#6A6AB6"/>
<path d="M126.07,557.39 A303.00,308.00 0 0 0 132.24,563.70 L162.95,531.76 A259.06,263.34 0 0 1 157.67,526.36 Z" fill="#C6C6E6"/>
<path d="M132.24,563.70 A303.00,308.00 0 0 0 138.60,569.83 L168.38,536.99 A259.06,263.34 0 0 1 162.95,531.76 Z" fill="#F2B6B0"/>
<path d="M138.60,569.83 A303.00,308.00 0 0 0 145.12,575.77 L173.96,542.07 A259.06,263.34 0 0 1 168.38,536.99 Z" fill="#C6C6E6"/>
<path d="M145.12,575.77 A303.00,308.00 0 0 0 151.81,581.51 L179.67,546.98 A259.06,263.34 0 0 1 173.96,542.07 Z" fill="#C6C6E6"/>
<path d="M151.81,581.51 A303.00,308.00 0 0 0 158.66,587.06 L185.53,551.73 A259.06,263.34 0 0 1 179.67,546.98 Z" fill="#1A2276"/>
<path d="M158.66,587.06 A303.00,308.00 0 0 0 165.66,592.40 L191.52,556.29 A259.06,263.34 0 0 1 185.53,551.73 Z" fill="#9494CC"/>
<path d="M165.66,592.40 A303.00,308.00 0 0 0 172.81,597.53 L197.63,560.68 A259.06,263.34 0 0 1 191.52,556.29 Z" fill="#8484C4"/>
<path d="M172.81,597.53 A303.00,308.00 0 0 0 180.11,602.45 L203.87,564.89 A259.06,263.34 0 0 1 197.63,560.68 Z" fill="#C6C6E6"/>
<path d="M180.11,602.45 A303.00,308.00 0 0 0 187.54,607.16 L210.23,568.92 A259.06,263.34 0 0 1 203.87,564.89 Z" fill="#8484C4"/>
<path d="M187.54,607.16 A303.00,308.00 0 0 0 195.10,611.65 L216.69,572.75 A259.06,263.34 0 0 1 210.23,568.92 Z" fill="#C6C6E6"/>
<path d="M195.10,611.65 A303.00,308.00 0 0 0 202.79,615.91 L223.27,576.39 A259.06,263.34 0 0 1 216.69,572.75 Z" fill="#C6C6E6"/>
<path d="M202.79,615.91 A303.00,308.00 0 0 0 210.60,619.94 L229.94,579.84 A259.06,263.34 0 0 1 223.27,576.39 Z" fill="#6A6AB6"/>
<path d="M210.60,619.94 A303.00,308.00 0 0 0 218.51,623.74 L236.71,583.09 A259.06,263.34 0 0 1 229.94,579.84 Z" fill="#B6B6DE"/>
<path d="M218.51,623.74 A303.00,308.00 0 0 0 226.53,627.31 L243.57,586.15 A259.06,263.34 0 0 1 236.71,583.09 Z" fill="#C6C6E6"/>
<path d="M226.53,627.31 A303.00,308.00 0 0 0 234.65,630.64 L250.51,588.99 A259.06,263.34 0 0 1 243.57,586.15 Z" fill="#F2B6B0"/>
<path d="M234.65,630.64 A303.00,308.00 0 0 0 242.86,633.74 L257.53,591.64 A259.06,263.34 0 0 1 250.51,588.99 Z" fill="#9494CC"/>
<path d="M242.86,633.74 A303.00,308.00 0 0 0 251.16,636.59 L264.62,594.07 A259.06,263.34 0 0 1 257.53,591.64 Z" fill="#B6B6DE"/>
<path d="M251.16,636.59 A303.00,308.00 0 0 0 259.53,639.19 L271.78,596.30 A259.06,263.34 0 0 1 264.62,594.07 Z" fill="#F2B6B0"/>
<path d="M259.53,639.19 A303.00,308.00 0 0 0 267.98,641.55 L279.00,598.32 A259.06,263.34 0 0 1 271.78,596.30 Z" fill="#8484C4"/>
<path d="M267.98,641.55 A303.00,308.00 0 0 0 276.48,643.66 L286.27,600.12 A259.06,263.34 0 0 1 279.00,598.32 Z" fill="#8484C4"/>
<path d="M276.48,643.66 A303.00,308.00 0 0 0 285.05,645.51 L293.60,601.71 A259.06,263.34 0 0 1 286.27,600.12 Z" fill="#C6C6E6"/>
<path d="M285.05,645.51 A303.00,308.00 0 0 0 293.66,647.12 L300.96,603.08 A259.06,263.34 0 0 1 293.60,601.71 Z" fill="#C6C6E6"/>
<path d="M293.66,647.12 A303.00,308.00 0 0 0 302.32,648.47 L308.36,604.24 A259.06,263.34 0 0 1 300.96,603.08 Z" fill="#C6C6E6"/>
<path d="M302.32,648.47 A303.00,308.00 0 0 0 311.00,649.57 L315.79,605.17 A259.06,263.34 0 0 1 308.36,604.24 Z" fill="#5454A8"/>
<path d="M311.00,649.57 A303.00,308.00 0 0 0 319.72,650.41 L323.24,605.89 A259.06,263.34 0 0 1 315.79,605.17 Z" fill="#F2B6B0"/>
<path d="M319.72,650.41 A303.00,308.00 0 0 0 328.46,650.99 L330.71,606.39 A259.06,263.34 0 0 1 323.24,605.89 Z" fill="#C6C6E6"/>
</g>
<g font-size="7.4" font-weight="bold" fill="#111">
<text x="349.06" y="30.51" text-anchor="end" dominant-baseline="central" transform="rotate(90.94 349.06 30.51)">SLURP2</text>
<text x="340.17" y="30.50" text-anchor="end" dominant-baseline="central" transform="rotate(89.29 340.17 30.50)">RHEX</text>
<text x="331.27" y="30.74" text-anchor="end" dominant-baseline="central" transform="rotate(87.63 331.27 30.74)">MMP12</text>
<text x="322.39" y="31.24" text-anchor="end" dominant-baseline="central" transform="rotate(85.97 322.39 31.24)">CARD17</text>
<text x="313.52" y="32.01" text-anchor="end" dominant-baseline="central" transform="rotate(84.32 313.52 32.01)">C4A</text>
<text x="304.69" y="33.03" text-anchor="end" dominant-baseline="central" transform="rotate(82.66 304.69 33.03)">CFB</text>
<text x="295.88" y="34.32" text-anchor="end" dominant-baseline="central" transform="rotate(81.01 295.88 34.32)">TNF</text>
<text x="287.11" y="35.86" text-anchor="end" dominant-baseline="central" transform="rotate(79.35 287.11 35.86)">LTB</text>
<text x="278.39" y="37.66" text-anchor="end" dominant-baseline="central" transform="rotate(77.70 278.39 37.66)">SERPINB4</text>
<text x="269.73" y="39.72" text-anchor="end" dominant-baseline="central" transform="rotate(76.04 269.73 39.72)">CFI</text>
<text x="261.13" y="42.02" text-anchor="end" dominant-baseline="central" transform="rotate(74.38 261.13 42.02)">SERPINB13</text>
<text x="252.60" y="44.58" text-anchor="end" dominant-baseline="central" transform="rotate(72.73 252.60 44.58)">SERPINA1</text>
<text x="244.14" y="47.39" text-anchor="end" dominant-baseline="central" transform="rotate(71.07 244.14 47.39)">MMP1</text>
<text x="235.77" y="50.45" text-anchor="end" dominant-baseline="central" transform="rotate(69.42 235.77 50.45)">SERPINA3</text>
<text x="227.49" y="53.75" text-anchor="end" dominant-baseline="central" transform="rotate(67.76 227.49 53.75)">SERPINA5</text>
<text x="219.30" y="57.29" text-anchor="end" dominant-baseline="central" transform="rotate(66.10 219.30 57.29)">C10orf99</text>
<text x="211.22" y="61.08" text-anchor="end" dominant-baseline="central" transform="rotate(64.45 211.22 61.08)">TLR5</text>
<text x="203.25" y="65.09" text-anchor="end" dominant-baseline="central" transform="rotate(62.79 203.25 65.09)">TMPRSS2</text>
<text x="195.40" y="69.34" text-anchor="end" dominant-baseline="central" transform="rotate(61.14 195.40 69.34)">C1S</text>
<text x="187.67" y="73.82" text-anchor="end" dominant-baseline="central" transform="rotate(59.48 187.67 73.82)">CLCF1</text>
<text x="180.07" y="78.53" text-anchor="end" dominant-baseline="central" transform="rotate(57.83 180.07 78.53)">CST6</text>
<text x="172.61" y="83.45" text-anchor="end" dominant-baseline="central" transform="rotate(56.17 172.61 83.45)">WFDC5</text>
<text x="165.29" y="88.60" text-anchor="end" dominant-baseline="central" transform="rotate(54.51 165.29 88.60)">SAA1</text>
<text x="158.12" y="93.95" text-anchor="end" dominant-baseline="central" transform="rotate(52.86 158.12 93.95)">IL16</text>
<text x="151.11" y="99.52" text-anchor="end" dominant-baseline="central" transform="rotate(51.20 151.11 99.52)">LRG1</text>
<text x="144.26" y="105.28" text-anchor="end" dominant-baseline="central" transform="rotate(49.55 144.26 105.28)">SERPINB9</text>
<text x="137.57" y="111.25" text-anchor="end" dominant-baseline="central" transform="rotate(47.89 137.57 111.25)">SERPINA6</text>
<text x="131.06" y="117.41" text-anchor="end" dominant-baseline="central" transform="rotate(46.23 131.06 117.41)">WNT10B</text>
<text x="124.72" y="123.76" text-anchor="end" dominant-baseline="central" transform="rotate(44.58 124.72 123.76)">CXCL8</text>
<text x="118.57" y="130.29" text-anchor="end" dominant-baseline="central" transform="rotate(42.92 118.57 130.29)">CXCL11</text>
<text x="112.61" y="137.00" text-anchor="end" dominant-baseline="central" transform="rotate(41.27 112.61 137.00)">CXCL10</text>
<text x="106.84" y="143.88" text-anchor="end" dominant-baseline="central" transform="rotate(39.61 106.84 143.88)">KLK11</text>
<text x="101.27" y="150.93" text-anchor="end" dominant-baseline="central" transform="rotate(37.96 101.27 150.93)">KLK6</text>
<text x="95.90" y="158.14" text-anchor="end" dominant-baseline="central" transform="rotate(36.30 95.90 158.14)">KLK1</text>
<text x="90.73" y="165.51" text-anchor="end" dominant-baseline="central" transform="rotate(34.64 90.73 165.51)">MMP10</text>
<text x="85.78" y="173.02" text-anchor="end" dominant-baseline="central" transform="rotate(32.99 85.78 173.02)">FBN1</text>
<text x="81.05" y="180.68" text-anchor="end" dominant-baseline="central" transform="rotate(31.33 81.05 180.68)">CTSB</text>
<text x="76.53" y="188.47" text-anchor="end" dominant-baseline="central" transform="rotate(29.68 76.53 188.47)">CXCL1</text>
<text x="72.24" y="196.39" text-anchor="end" dominant-baseline="central" transform="rotate(28.02 72.24 196.39)">CXCL3</text>
<text x="68.17" y="204.43" text-anchor="end" dominant-baseline="central" transform="rotate(26.36 68.17 204.43)">CTSS</text>
<text x="64.34" y="212.59" text-anchor="end" dominant-baseline="central" transform="rotate(24.71 64.34 212.59)">INHBB</text>
<text x="60.74" y="220.86" text-anchor="end" dominant-baseline="central" transform="rotate(23.05 60.74 220.86)">WNT4</text>
<text x="57.37" y="229.23" text-anchor="end" dominant-baseline="central" transform="rotate(21.40 57.37 229.23)">TMPRSS3</text>
<text x="54.24" y="237.70" text-anchor="end" dominant-baseline="central" transform="rotate(19.74 54.24 237.70)">CPAMD8</text>
<text x="51.36" y="246.26" text-anchor="end" dominant-baseline="central" transform="rotate(18.09 51.36 246.26)">C1R</text>
<text x="48.72" y="254.89" text-anchor="end" dominant-baseline="central" transform="rotate(16.43 48.72 254.89)">STC1</text>
<text x="46.33" y="263.60" text-anchor="end" dominant-baseline="central" transform="rotate(14.77 46.33 263.60)">NRG1</text>
<text x="44.19" y="272.38" text-anchor="end" dominant-baseline="central" transform="rotate(13.12 44.19 272.38)">TIMP4</text>
<text x="42.29" y="281.22" text-anchor="end" dominant-baseline="central" transform="rotate(11.46 42.29 281.22)">TMPRSS11D</text>
<text x="40.65" y="290.10" text-anchor="end" dominant-baseline="central" transform="rotate(9.81 40.65 290.10)">CCL28</text>
<text x="39.26" y="299.04" text-anchor="end" dominant-baseline="central" transform="rotate(8.15 39.26 299.04)">LYPD1</text>
<text x="38.13" y="308.00" text-anchor="end" dominant-baseline="central" transform="rotate(6.49 38.13 308.00)">MMP3</text>
<text x="37.25" y="317.00" text-anchor="end" dominant-baseline="central" transform="rotate(4.84 37.25 317.00)">SERPING1</text>
<text x="36.63" y="326.03" text-anchor="end" dominant-baseline="central" transform="rotate(3.18 36.63 326.03)">CXCL14</text>
<text x="36.26" y="335.06" text-anchor="end" dominant-baseline="central" transform="rotate(1.53 36.26 335.06)">OSGIN1</text>
<text x="36.15" y="344.10" text-anchor="end" dominant-baseline="central" transform="rotate(-0.13 36.15 344.10)">ESR2</text>
<text x="36.30" y="353.15" text-anchor="end" dominant-baseline="central" transform="rotate(-1.78 36.30 353.15)">CXCL9</text>
<text x="36.71" y="362.18" text-anchor="end" dominant-baseline="central" transform="rotate(-3.44 36.71 362.18)">FGF5</text>
<text x="37.37" y="371.20" text-anchor="end" dominant-baseline="central" transform="rotate(-5.10 37.37 371.20)">SEMA7A</text>
<text x="38.29" y="380.19" text-anchor="end" dominant-baseline="central" transform="rotate(-6.75 38.29 380.19)">MMP13</text>
<text x="39.46" y="389.16" text-anchor="end" dominant-baseline="central" transform="rotate(-8.41 39.46 389.16)">MMP7</text>
<text x="40.89" y="398.08" text-anchor="end" dominant-baseline="central" transform="rotate(-10.06 40.89 398.08)">IL1RN</text>
<text x="42.57" y="406.96" text-anchor="end" dominant-baseline="central" transform="rotate(-11.72 42.57 406.96)">IL36G</text>
<text x="44.50" y="415.79" text-anchor="end" dominant-baseline="central" transform="rotate(-13.38 44.50 415.79)">GPNMB</text>
<text x="46.69" y="424.56" text-anchor="end" dominant-baseline="central" transform="rotate(-15.03 46.69 424.56)">SAA2</text>
<text x="49.12" y="433.26" text-anchor="end" dominant-baseline="central" transform="rotate(-16.69 49.12 433.26)">NGF</text>
<text x="51.79" y="441.88" text-anchor="end" dominant-baseline="central" transform="rotate(-18.34 51.79 441.88)">KLK14</text>
<text x="54.72" y="450.42" text-anchor="end" dominant-baseline="central" transform="rotate(-20.00 54.72 450.42)">RASL11B</text>
<text x="57.88" y="458.87" text-anchor="end" dominant-baseline="central" transform="rotate(-21.65 57.88 458.87)">EDN2</text>
<text x="61.28" y="467.23" text-anchor="end" dominant-baseline="central" transform="rotate(-23.31 61.28 467.23)">SLURP1</text>
<text x="64.92" y="475.48" text-anchor="end" dominant-baseline="central" transform="rotate(-24.97 64.92 475.48)">FLRT3</text>
<text x="68.79" y="483.62" text-anchor="end" dominant-baseline="central" transform="rotate(-26.62 68.79 483.62)">BMP2</text>
<text x="72.89" y="491.65" text-anchor="end" dominant-baseline="central" transform="rotate(-28.28 72.89 491.65)">TNFSF14</text>
<text x="77.22" y="499.55" text-anchor="end" dominant-baseline="central" transform="rotate(-29.93 77.22 499.55)">C3</text>
<text x="81.77" y="507.32" text-anchor="end" dominant-baseline="central" transform="rotate(-31.59 81.77 507.32)">CD70</text>
<text x="86.54" y="514.96" text-anchor="end" dominant-baseline="central" transform="rotate(-33.25 86.54 514.96)">IL17C</text>
<text x="91.52" y="522.45" text-anchor="end" dominant-baseline="central" transform="rotate(-34.90 91.52 522.45)">SLPI</text>
<text x="96.72" y="529.79" text-anchor="end" dominant-baseline="central" transform="rotate(-36.56 96.72 529.79)">PI3</text>
<text x="102.12" y="536.97" text-anchor="end" dominant-baseline="central" transform="rotate(-38.21 102.12 536.97)">PLAU</text>
<text x="107.72" y="544.00" text-anchor="end" dominant-baseline="central" transform="rotate(-39.87 107.72 544.00)">TNFSF10</text>
<text x="113.52" y="550.85" text-anchor="end" dominant-baseline="central" transform="rotate(-41.52 113.52 550.85)">STAT1</text>
<text x="119.52" y="557.54" text-anchor="end" dominant-baseline="central" transform="rotate(-43.18 119.52 557.54)">CCL20</text>
<text x="125.70" y="564.04" text-anchor="end" dominant-baseline="central" transform="rotate(-44.84 125.70 564.04)">WNT5A</text>
<text x="132.06" y="570.36" text-anchor="end" dominant-baseline="central" transform="rotate(-46.49 132.06 570.36)">STC2</text>
<text x="138.60" y="576.49" text-anchor="end" dominant-baseline="central" transform="rotate(-48.15 138.60 576.49)">LIFR</text>
<text x="145.31" y="582.43" text-anchor="end" dominant-baseline="central" transform="rotate(-49.80 145.31 582.43)">CTSC</text>
<text x="152.19" y="588.16" text-anchor="end" dominant-baseline="central" transform="rotate(-51.46 152.19 588.16)">HGFAC</text>
<text x="159.23" y="593.69" text-anchor="end" dominant-baseline="central" transform="rotate(-53.12 159.23 593.69)">CCL2</text>
<text x="166.42" y="599.02" text-anchor="end" dominant-baseline="central" transform="rotate(-54.77 166.42 599.02)">CSF3</text>
<text x="173.76" y="604.13" text-anchor="end" dominant-baseline="central" transform="rotate(-56.43 173.76 604.13)">PTN</text>
<text x="181.24" y="609.02" text-anchor="end" dominant-baseline="central" transform="rotate(-58.08 181.24 609.02)">EBI3</text>
<text x="188.86" y="613.69" text-anchor="end" dominant-baseline="central" transform="rotate(-59.74 188.86 613.69)">PLAT</text>
<text x="196.61" y="618.13" text-anchor="end" dominant-baseline="central" transform="rotate(-61.39 196.61 618.13)">CCL22</text>
<text x="204.48" y="622.35" text-anchor="end" dominant-baseline="central" transform="rotate(-63.05 204.48 622.35)">TNFSF13B</text>
<text x="212.47" y="626.33" text-anchor="end" dominant-baseline="central" transform="rotate(-64.71 212.47 626.33)">WFDC2</text>
<text x="220.57" y="630.07" text-anchor="end" dominant-baseline="central" transform="rotate(-66.36 220.57 630.07)">PCSK5</text>
<text x="228.77" y="633.58" text-anchor="end" dominant-baseline="central" transform="rotate(-68.02 228.77 633.58)">IL11</text>
<text x="237.06" y="636.84" text-anchor="end" dominant-baseline="central" transform="rotate(-69.67 237.06 636.84)">CXCL2</text>
<text x="245.45" y="639.86" text-anchor="end" dominant-baseline="central" transform="rotate(-71.33 245.45 639.86)">EDN1</text>
<text x="253.92" y="642.63" text-anchor="end" dominant-baseline="central" transform="rotate(-72.99 253.92 642.63)">GAL</text>
<text x="262.46" y="645.15" text-anchor="end" dominant-baseline="central" transform="rotate(-74.64 262.46 645.15)">SERPINB3</text>
<text x="271.07" y="647.42" text-anchor="end" dominant-baseline="central" transform="rotate(-76.30 271.07 647.42)">TG</text>
<text x="279.75" y="649.44" text-anchor="end" dominant-baseline="central" transform="rotate(-77.95 279.75 649.44)">TYMP</text>
<text x="288.47" y="651.20" text-anchor="end" dominant-baseline="central" transform="rotate(-79.61 288.47 651.20)">BIRC3</text>
<text x="297.25" y="652.70" text-anchor="end" dominant-baseline="central" transform="rotate(-81.26 297.25 652.70)">SERPINB1</text>
<text x="306.06" y="653.94" text-anchor="end" dominant-baseline="central" transform="rotate(-82.92 306.06 653.94)">LTF</text>
<text x="314.90" y="654.93" text-anchor="end" dominant-baseline="central" transform="rotate(-84.58 314.90 654.93)">SEMA3B</text>
<text x="323.77" y="655.65" text-anchor="end" dominant-baseline="central" transform="rotate(-86.23 323.77 655.65)">CX3CL1</text>
</g>
<defs><linearGradient id="cb" x1="0" y1="0" x2="0" y2="1">
<stop offset="0.0000" stop-color="#D80A0A"/>
<stop offset="0.2350" stop-color="#E03A3A"/>
<stop offset="0.3050" stop-color="#E45252"/>
<stop offset="0.3750" stop-color="#E87070"/>
<stop offset="0.4100" stop-color="#EC9494"/>
<stop offset="0.4450" stop-color="#F0B8B8"/>
<stop offset="0.4785" stop-color="#F8E0E0"/>
<stop offset="0.5000" stop-color="#F4FAFC"/>
<stop offset="0.5400" stop-color="#C8C0E0"/>
<stop offset="0.5900" stop-color="#9E9AD0"/>
<stop offset="0.6400" stop-color="#7A78C0"/>
<stop offset="0.6900" stop-color="#5A58A8"/>
<stop offset="0.7400" stop-color="#3A3A90"/>
<stop offset="0.7925" stop-color="#232578"/>
<stop offset="0.8650" stop-color="#1A1E6E"/>
<stop offset="0.9400" stop-color="#161A68"/>
<stop offset="1.0000" stop-color="#141866"/>
</linearGradient></defs>
<rect x="682.9" y="35.1" width="14" height="619.2" fill="url(#cb)"/>
<text x="682.6" y="26.8" font-size="13" textLength="34.2" lengthAdjust="spacingAndGlyphs"><tspan font-weight="bold">log</tspan> FC</text>
<text x="702.3" y="44.4" font-size="12.6">10</text>
<text x="702" y="654" font-size="12.6">−10</text>
<rect x="80.9" y="708.3" width="19.2" height="13.3" fill="#A50606"/>
<text x="107.3" y="717.9" font-size="10.8" fill="#111" stroke="#111" stroke-width="0.25">chemokine_activity</text>
<rect x="80.9" y="724.4" width="19.2" height="13.3" fill="#2E8A1E"/>
<text x="107.3" y="734.0" font-size="10.8" fill="#111" stroke="#111" stroke-width="0.25">cytokine_receptor_binding</text>
<rect x="80.9" y="740.5" width="19.2" height="13.3" fill="#0B1458"/>
<text x="107.3" y="750.1" font-size="10.8" fill="#111" stroke="#111" stroke-width="0.25">receptor_ligand_activity</text>
<rect x="80.9" y="756.6" width="19.2" height="13.3" fill="#A4145A"/>
<text x="107.3" y="766.2" font-size="10.8" fill="#111" stroke="#111" stroke-width="0.25">serine-type_peptidase_activity</text>
<rect x="80.9" y="772.7" width="19.2" height="13.3" fill="#EE600C"/>
<text x="107.3" y="782.3" font-size="10.8" fill="#111" stroke="#111" stroke-width="0.25">chemokine_receptor_binding</text>
<rect x="356.9" y="708.3" width="19.2" height="13.3" fill="#0C400E"/>
<text x="384.2" y="717.9" font-size="10.8" fill="#111" stroke="#111" stroke-width="0.25">endopeptidase_inhibitor_activity</text>
<rect x="356.9" y="724.4" width="19.2" height="13.3" fill="#24250A"/>
<text x="381.8" y="734.0" font-size="10.8" fill="#111" stroke="#111" stroke-width="0.25">receptor_regulator_activity</text>
<rect x="356.9" y="740.5" width="19.2" height="13.3" fill="#2C9AB6"/>
<text x="381.8" y="750.1" font-size="10.8" fill="#111" stroke="#111" stroke-width="0.25">cytokine_activity</text>
<rect x="356.9" y="756.6" width="19.2" height="13.3" fill="#2F4E9E"/>
<text x="381.8" y="766.2" font-size="10.8" fill="#111" stroke="#111" stroke-width="0.25">peptidase_inhibitor_activity</text>
<rect x="356.9" y="772.7" width="19.2" height="13.3" fill="#595A12"/>
<text x="381.8" y="782.3" font-size="10.8" fill="#111" stroke="#111" stroke-width="0.25">serine-type_endopeptidase_activity</text>
</svg></body></html>
